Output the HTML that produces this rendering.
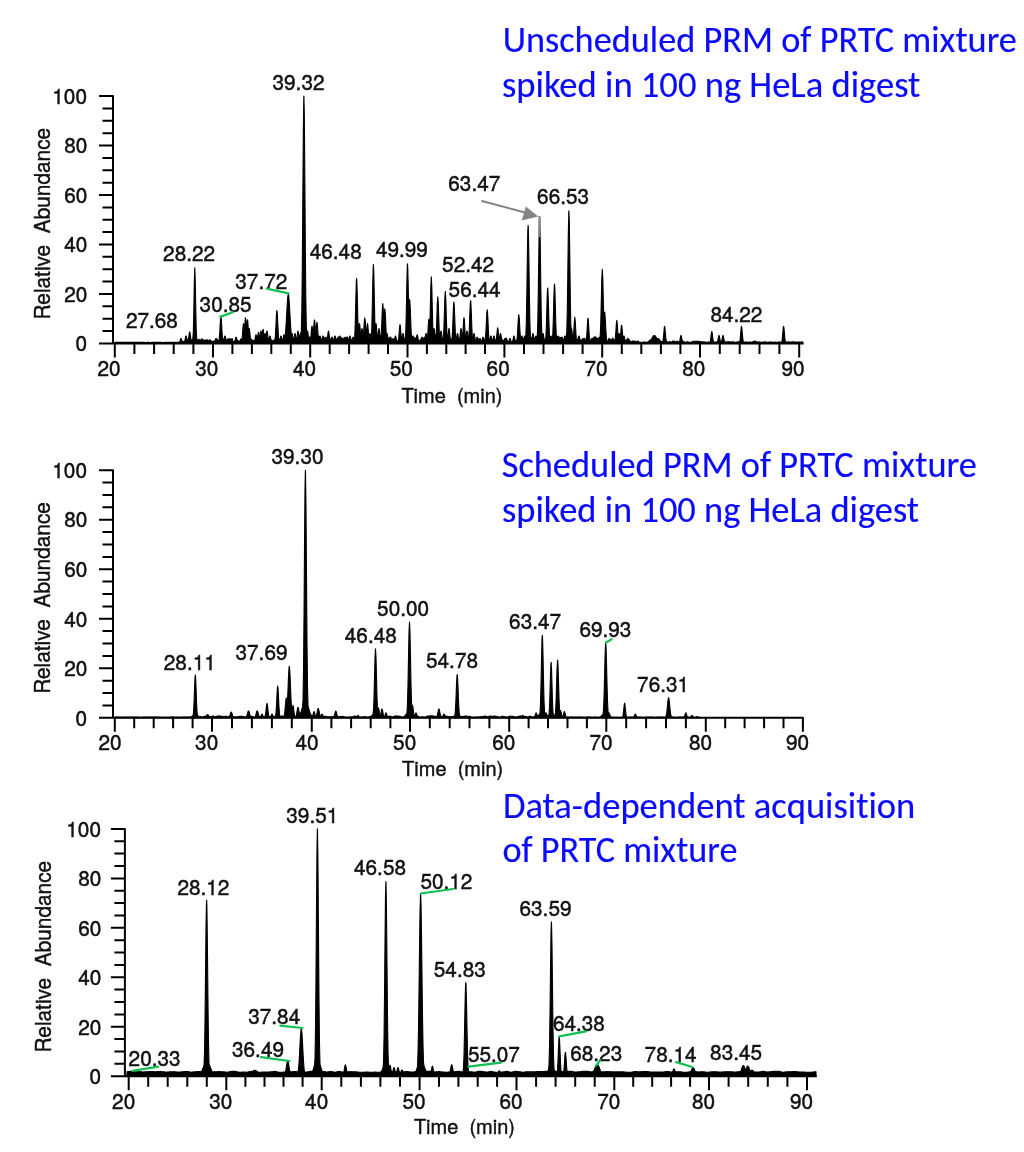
<!DOCTYPE html><html><head><meta charset="utf-8"><title>PRM chromatograms</title><style>html,body{margin:0;padding:0;background:#fff;}svg{display:block}</style></head><body>
<svg width="1024" height="1152" viewBox="0 0 1024 1152">
<rect width="1024" height="1152" fill="#fff"/>
<polygon points="114.8,343.4 114.80,342.3 115.30,342.3 115.80,342.2 116.30,342.2 116.80,342.2 117.30,342.2 117.80,342.2 118.30,342.3 118.80,342.4 119.30,342.5 119.80,342.4 120.30,342.4 120.80,342.4 121.30,342.4 121.80,342.3 122.30,342.2 122.80,342.3 123.30,342.4 123.80,342.5 124.30,342.4 124.80,342.3 125.30,342.2 125.80,342.2 126.30,342.2 126.80,342.2 127.30,342.3 127.80,342.3 128.30,342.4 128.80,342.4 129.30,342.4 129.80,342.4 130.30,342.4 130.80,342.4 131.30,342.4 131.80,342.4 132.30,342.4 132.80,342.4 133.30,342.4 133.80,342.4 134.30,342.4 134.80,342.4 135.30,342.4 135.80,342.3 136.30,342.3 136.80,342.3 137.30,342.3 137.80,342.3 138.30,342.2 138.80,342.2 139.30,342.2 139.80,342.2 140.30,342.2 140.80,342.3 141.30,342.3 141.80,342.3 142.30,342.3 142.80,342.2 143.30,342.2 143.80,342.3 144.30,342.4 144.80,342.5 145.30,342.5 145.80,342.5 146.30,342.5 146.80,342.4 147.30,342.4 147.80,342.3 148.30,342.4 148.80,342.4 149.30,342.5 149.80,342.5 150.30,342.5 150.80,342.5 151.30,342.5 151.80,342.4 152.30,342.3 152.80,342.3 153.30,342.4 153.80,342.4 154.30,342.3 154.80,342.2 155.30,342.2 155.80,342.2 156.30,342.3 156.80,342.3 157.30,342.3 157.80,342.3 158.30,342.3 158.80,342.3 159.30,342.3 159.80,342.4 160.30,342.4 160.80,342.4 161.30,342.4 161.80,342.5 162.30,342.5 162.80,342.5 163.30,342.5 163.80,342.5 164.30,342.5 164.80,342.4 165.30,342.3 165.80,342.3 166.30,342.3 166.80,342.4 167.30,342.5 167.80,342.4 168.30,342.4 168.80,342.4 169.30,342.4 169.80,342.5 170.30,342.5 170.80,342.4 171.30,342.3 171.80,342.2 172.30,342.3 172.80,342.4 173.30,342.5 173.80,342.5 174.30,342.4 174.80,342.4 175.30,342.4 175.80,342.3 176.30,342.2 176.80,342.3 177.30,342.3 177.80,342.3 178.30,342.3 178.80,342.3 179.30,342.2 179.80,341.8 180.30,340.0 180.80,338.6 181.00,338.5 181.30,338.8 181.80,340.4 182.30,342.1 182.80,342.3 183.30,341.3 183.80,342.2 184.30,341.6 184.80,341.0 185.30,338.3 185.80,336.2 186.00,336.0 186.30,336.5 186.80,338.9 187.30,340.0 187.80,339.6 188.30,339.1 188.80,337.2 189.30,333.1 189.70,331.8 189.80,331.9 190.30,334.6 190.80,338.9 191.30,340.2 191.80,340.2 192.30,339.7 192.80,339.2 193.30,332.6 193.80,311.6 194.30,282.5 194.80,267.7 195.30,282.5 195.80,311.6 196.30,332.6 196.80,339.2 197.30,339.7 197.80,340.2 198.30,340.2 198.80,339.3 199.30,339.9 199.80,339.8 200.00,339.7 200.30,339.9 200.80,340.2 201.30,339.5 201.80,338.7 202.30,339.2 202.80,339.7 203.30,340.2 203.80,340.2 204.30,340.2 204.80,340.1 205.00,340.1 205.30,340.1 205.80,340.1 206.30,340.0 206.80,340.0 207.30,339.9 207.80,339.9 208.30,340.6 208.80,341.2 209.30,340.9 209.80,339.8 210.00,339.7 210.30,339.9 210.80,340.8 211.30,341.1 211.80,341.3 212.30,341.6 212.80,341.4 213.30,341.2 213.80,340.9 214.30,341.3 214.80,341.7 215.30,340.0 215.80,338.6 216.00,338.5 216.30,338.8 216.80,338.7 217.30,339.7 217.80,340.7 218.30,341.7 218.80,341.1 219.30,338.3 219.80,331.3 220.30,322.4 220.80,317.1 220.90,316.9 221.30,319.5 221.80,327.7 222.30,335.9 222.80,339.1 223.30,339.4 223.80,339.6 224.30,338.3 224.80,336.2 225.00,336.0 225.30,336.5 225.80,338.9 226.30,341.1 226.80,340.1 227.30,339.2 227.80,339.1 228.30,338.9 228.80,338.8 229.30,338.8 229.80,338.9 230.30,339.0 230.80,339.4 231.30,339.8 231.80,338.6 232.00,338.5 232.30,338.8 232.80,340.4 233.30,342.0 233.80,341.9 234.30,341.8 234.80,341.4 235.30,339.2 235.80,337.4 236.00,337.2 236.30,337.6 236.80,339.4 237.30,339.9 237.80,340.3 238.30,340.8 238.80,341.3 239.30,341.8 239.80,340.9 240.30,340.0 240.80,339.0 241.30,339.4 241.80,339.7 242.30,337.0 242.80,329.9 243.30,324.2 243.50,323.6 243.80,325.0 244.30,331.4 244.80,325.9 245.30,318.5 245.50,317.7 245.80,319.4 246.30,327.8 246.80,327.4 247.30,320.6 247.50,319.9 247.80,321.5 248.30,329.2 248.80,330.3 249.20,328.6 249.30,328.7 249.80,332.2 250.30,337.6 250.80,340.2 251.30,339.1 251.80,339.6 252.30,340.1 252.80,340.7 253.30,340.6 253.80,340.5 254.30,340.4 254.80,340.6 255.30,337.5 255.80,335.0 256.00,334.7 256.30,335.3 256.80,338.2 257.30,339.6 257.80,335.8 258.30,332.6 258.50,332.3 258.80,333.0 259.30,336.7 259.80,339.4 260.30,335.0 260.80,331.4 261.00,331.0 261.30,331.9 261.80,335.9 262.30,333.8 262.80,329.7 263.00,329.3 263.30,330.3 263.80,334.9 264.30,336.7 264.80,333.8 265.00,333.5 265.30,334.2 265.80,337.4 266.30,335.0 266.80,331.4 267.00,331.0 267.30,331.9 267.80,335.9 268.30,340.1 268.80,340.6 269.30,338.3 269.80,336.2 270.00,336.0 270.30,336.5 270.80,338.9 271.30,339.8 271.80,340.5 272.30,341.2 272.80,340.8 273.30,340.5 273.80,340.2 274.30,340.1 274.80,340.0 275.30,337.1 275.80,328.3 276.30,317.3 276.80,310.7 276.90,310.5 277.30,313.7 277.80,323.9 278.30,334.1 278.80,340.2 279.30,339.8 279.80,339.5 280.30,338.3 280.80,336.2 281.00,336.0 281.30,336.5 281.80,338.9 282.30,340.9 282.80,340.6 283.30,337.5 283.80,335.0 284.00,334.7 284.30,335.3 284.80,338.2 285.30,335.1 285.80,329.1 286.30,321.0 286.80,311.8 287.30,303.0 287.80,296.6 288.30,294.2 288.80,296.6 289.30,303.0 289.80,311.8 290.30,321.0 290.80,329.1 291.30,335.1 291.80,333.8 292.00,333.5 292.30,334.2 292.80,337.4 293.30,339.3 293.80,340.2 294.30,336.7 294.80,333.8 295.00,333.5 295.30,334.2 295.80,337.4 296.30,340.0 296.80,339.4 297.30,335.0 297.80,331.4 298.00,331.0 298.30,331.9 298.80,335.9 299.30,338.1 299.80,336.6 300.30,333.8 300.50,333.5 300.80,333.3 301.30,331.5 301.80,311.2 302.30,267.7 302.80,202.0 303.30,134.0 303.80,97.2 303.90,96.1 304.30,113.7 304.80,173.3 305.30,243.5 305.80,296.8 306.30,326.1 306.80,332.6 307.30,331.4 307.50,331.0 307.80,331.9 308.30,335.9 308.80,338.8 309.30,338.1 309.80,336.9 310.30,337.6 310.80,337.8 311.30,331.6 311.80,326.6 312.00,326.1 312.30,327.3 312.80,332.9 313.30,334.1 313.80,326.3 314.30,320.5 314.50,319.9 314.80,321.2 315.30,327.9 315.80,335.5 316.30,329.1 316.80,323.0 317.00,322.4 317.30,323.8 317.80,330.7 318.30,337.8 318.80,336.7 319.30,337.6 319.80,336.2 320.00,336.0 320.30,336.5 320.80,338.9 321.30,339.5 321.80,339.4 322.30,338.3 322.80,336.2 323.00,336.0 323.30,336.5 323.80,337.5 324.30,337.8 324.80,338.1 325.30,338.4 325.80,337.4 326.00,337.2 326.30,337.6 326.80,339.4 327.30,339.4 327.80,335.0 328.30,331.4 328.50,331.0 328.80,331.9 329.30,335.9 329.80,338.2 330.30,339.2 330.80,340.1 331.30,339.1 331.80,337.4 332.00,337.2 332.30,337.1 332.80,338.7 333.30,340.4 333.80,341.0 334.30,338.3 334.80,336.2 335.00,336.0 335.30,336.5 335.80,338.9 336.30,339.6 336.80,339.5 337.30,338.6 337.80,337.7 338.30,336.9 338.80,338.3 339.30,338.3 339.80,336.2 340.00,336.0 340.30,336.5 340.80,338.8 341.30,337.8 341.80,338.0 342.30,338.3 342.80,338.5 343.30,338.4 343.80,338.4 344.30,338.3 344.80,337.4 345.00,337.2 345.30,337.6 345.80,338.8 346.30,338.1 346.80,337.4 347.30,336.8 347.80,338.0 348.30,339.3 348.80,340.6 349.30,338.3 349.80,336.2 350.00,336.0 350.30,336.5 350.80,338.9 351.30,340.9 351.80,341.3 352.30,339.2 352.80,337.4 353.00,337.2 353.30,337.6 353.80,339.7 354.30,340.0 354.80,335.4 355.30,321.6 355.80,300.5 356.30,282.3 356.60,278.6 356.80,280.3 357.30,296.2 357.80,317.8 358.30,333.4 358.80,329.9 359.30,324.2 359.50,323.6 359.80,325.0 360.30,331.4 360.80,338.1 361.30,333.3 361.80,329.0 362.00,328.6 362.30,329.6 362.80,334.4 363.30,337.4 363.80,329.9 364.30,321.5 364.80,317.7 365.30,321.5 365.80,329.9 366.30,337.0 366.80,329.9 367.30,324.2 367.50,323.6 367.80,325.0 368.30,331.4 368.80,337.8 369.30,336.7 369.80,333.8 370.00,333.5 370.30,334.2 370.80,337.4 371.30,338.8 371.80,328.3 372.30,307.3 372.80,280.9 373.30,265.0 373.40,264.5 373.80,272.3 374.30,296.6 374.80,321.1 375.30,329.9 375.80,324.2 376.00,323.6 376.30,325.0 376.80,331.4 377.30,338.1 377.80,338.6 378.30,333.3 378.80,329.0 379.00,328.6 379.30,329.6 379.80,334.4 380.30,337.7 380.80,337.9 381.30,334.1 381.80,322.5 382.30,309.5 382.80,303.6 383.30,309.5 383.80,322.5 384.30,313.9 384.80,308.8 385.30,313.9 385.80,325.2 386.30,335.3 386.80,333.8 387.00,333.5 387.30,334.2 387.80,337.3 388.30,338.0 388.80,338.7 389.30,339.2 389.80,337.4 390.00,337.2 390.30,337.6 390.80,337.1 391.30,338.8 391.80,340.5 392.30,340.0 392.80,338.6 393.00,338.5 393.30,338.8 393.80,340.4 394.30,341.0 394.80,338.3 395.30,336.2 395.50,336.0 395.80,336.5 396.30,338.9 396.80,341.0 397.30,341.0 397.80,341.1 398.30,341.1 398.80,337.3 399.30,330.6 399.80,325.2 400.00,324.6 400.30,325.9 400.80,332.0 401.30,338.4 401.80,340.2 402.30,336.7 402.80,333.8 403.00,333.5 403.30,334.2 403.80,337.4 404.30,339.0 404.80,339.7 405.30,339.1 405.80,331.1 406.30,312.0 406.80,285.4 407.30,265.8 407.50,263.8 407.80,268.3 408.30,290.7 408.80,312.5 409.30,301.7 409.60,299.6 409.80,300.6 410.30,309.8 410.80,323.4 411.30,334.3 411.80,337.0 412.30,337.8 412.80,336.2 413.00,336.0 413.30,336.5 413.80,338.8 414.30,338.3 414.80,337.7 415.30,338.0 415.80,338.3 416.30,338.6 416.80,335.8 417.20,334.7 417.30,334.8 417.80,336.9 418.30,339.7 418.80,340.6 419.30,341.4 419.80,340.6 420.30,339.9 420.80,339.1 421.30,339.2 421.80,337.4 422.00,337.2 422.30,337.6 422.80,339.7 423.30,339.3 423.80,337.8 424.30,337.5 424.80,337.1 425.30,336.7 425.80,333.8 426.00,333.5 426.30,334.2 426.80,337.4 427.30,339.1 427.80,334.0 428.30,325.1 428.80,319.4 428.90,319.2 429.30,322.0 429.80,327.8 430.30,308.5 430.80,286.8 431.30,276.9 431.80,286.8 432.30,308.5 432.80,327.8 433.30,333.3 433.80,329.0 434.00,328.6 434.30,329.6 434.80,334.4 435.30,338.1 435.80,337.8 436.30,332.5 436.80,318.9 437.30,303.6 437.80,296.7 438.30,303.6 438.80,318.9 439.30,332.5 439.80,337.7 440.30,335.0 440.80,331.4 441.00,331.0 441.30,331.9 441.80,335.9 442.30,340.1 442.80,339.2 443.30,338.0 443.80,331.2 444.30,316.0 444.80,299.0 445.30,291.2 445.80,299.0 446.30,316.0 446.80,331.2 447.30,339.5 447.80,338.6 448.30,333.3 448.80,329.0 449.00,328.6 449.30,329.6 449.80,334.4 450.30,338.9 450.80,338.9 451.30,339.9 451.80,340.9 452.30,335.5 452.80,324.5 453.30,310.7 453.80,302.4 453.90,302.1 454.30,306.2 454.80,318.9 455.30,331.7 455.80,338.4 456.30,338.0 456.80,336.7 457.30,333.8 457.50,333.5 457.80,334.2 458.30,337.4 458.80,338.7 459.30,339.7 459.80,338.6 460.30,333.3 460.80,329.0 461.00,328.6 461.30,329.6 461.80,334.4 462.30,337.7 462.80,335.1 463.30,325.9 463.80,318.5 464.00,317.7 464.30,319.4 464.80,327.8 465.30,336.5 465.80,339.4 466.30,335.0 466.80,331.4 467.00,331.0 467.30,331.9 467.80,335.9 468.30,339.9 468.80,338.1 469.30,329.0 469.80,315.1 470.30,303.0 470.60,300.6 470.80,301.7 471.30,312.2 471.80,326.5 472.30,336.8 472.80,337.7 473.30,336.7 473.80,333.8 474.00,333.5 474.30,334.2 474.80,337.4 475.30,340.5 475.80,340.8 476.30,339.2 476.80,337.4 477.00,337.2 477.30,337.6 477.80,339.7 478.30,339.4 478.80,339.0 479.30,338.6 479.80,338.6 480.00,338.5 480.30,338.8 480.80,340.4 481.30,341.4 481.80,340.8 482.30,339.2 482.80,337.4 483.00,337.2 483.30,337.6 483.80,339.7 484.30,340.7 484.80,339.6 485.30,338.6 485.80,333.9 486.30,323.5 486.80,313.1 487.20,309.8 487.30,310.0 487.80,316.7 488.30,328.0 488.80,337.0 489.30,340.3 489.80,340.3 490.30,338.3 490.80,336.2 491.00,336.0 491.30,336.5 491.80,338.9 492.30,340.6 492.80,341.0 493.30,338.3 493.80,336.2 494.00,336.0 494.30,336.5 494.80,338.9 495.30,340.7 495.80,340.6 496.30,340.0 496.80,335.1 497.30,329.7 497.70,327.8 497.80,327.9 498.30,331.6 498.80,337.3 499.30,340.2 499.80,336.7 500.30,333.8 500.50,333.5 500.80,334.2 501.30,337.4 501.80,339.1 502.30,339.7 502.80,340.2 503.30,340.8 503.80,341.2 504.30,340.0 504.80,338.6 505.00,338.5 505.30,338.8 505.80,339.4 506.30,338.0 506.80,339.3 507.30,340.5 507.80,341.8 508.30,341.8 508.80,341.7 509.30,340.0 509.80,338.6 510.00,338.5 510.30,338.8 510.80,340.4 511.30,341.9 511.80,342.0 512.30,342.1 512.80,340.4 513.30,338.3 513.80,336.2 514.00,336.0 514.30,336.5 514.80,338.9 515.30,340.9 515.80,340.9 516.30,340.8 516.80,340.7 517.30,336.6 517.80,328.2 518.30,318.8 518.80,314.5 519.30,318.8 519.80,328.2 520.30,336.6 520.80,340.6 521.30,338.3 521.80,336.2 522.00,336.0 522.30,336.5 522.80,338.9 523.30,339.1 523.80,338.2 524.30,337.3 524.80,336.2 525.00,336.0 525.30,336.5 525.80,336.7 526.30,323.1 526.80,296.2 527.30,260.0 527.80,231.1 528.10,225.4 528.30,228.0 528.80,253.0 529.30,289.4 529.80,318.8 530.30,334.9 530.80,337.9 531.30,338.0 531.80,337.9 532.30,336.7 532.80,333.8 533.00,333.5 533.30,334.2 533.80,337.4 534.30,338.2 534.80,338.5 535.30,338.3 535.80,336.2 536.00,336.0 536.30,336.5 536.80,337.7 537.30,336.2 537.80,321.5 538.30,292.7 538.80,253.8 539.30,222.6 539.60,216.5 539.80,219.3 540.30,246.2 540.80,285.3 541.30,317.0 541.80,334.2 542.30,336.7 542.80,333.8 543.00,333.5 543.30,334.2 543.80,337.4 544.30,340.4 544.80,339.9 545.30,339.4 545.80,338.0 546.30,327.8 546.80,310.6 547.30,293.4 547.70,288.0 547.80,288.4 548.30,299.5 548.80,318.0 549.30,332.8 549.80,340.2 550.30,338.3 550.80,336.2 551.00,336.0 551.30,336.5 551.80,338.9 552.30,339.0 552.80,334.2 553.30,320.0 553.80,300.1 554.30,285.6 554.50,284.0 554.80,287.4 555.30,304.1 555.80,323.5 556.30,336.1 556.80,337.2 557.30,336.6 557.80,336.2 558.00,336.0 558.30,336.5 558.80,337.0 559.30,337.2 559.80,337.3 560.30,337.5 560.80,337.7 561.30,337.8 561.80,337.4 562.00,337.2 562.30,337.6 562.80,339.4 563.30,340.2 563.80,339.7 564.30,338.3 564.80,336.2 565.00,336.0 565.30,336.5 565.80,338.0 566.30,337.0 566.80,331.3 567.30,310.3 567.80,274.6 568.30,234.4 568.80,211.6 568.90,210.8 569.30,221.9 569.80,258.0 570.30,297.6 570.80,324.7 571.30,329.0 571.50,328.6 571.80,329.6 572.30,334.4 572.80,339.4 573.30,338.9 573.80,331.4 574.30,321.8 574.80,317.2 575.30,321.8 575.80,331.4 576.30,338.9 576.80,341.9 577.30,340.7 577.80,339.1 578.30,337.5 578.80,336.2 579.00,336.0 579.30,336.5 579.80,338.9 580.30,339.6 580.80,339.9 581.30,340.2 581.80,339.9 582.30,339.6 582.80,338.6 583.00,338.5 583.30,338.8 583.80,338.6 584.30,338.3 584.80,338.9 585.30,339.6 585.80,340.3 586.30,339.4 586.80,335.2 587.30,326.2 587.80,319.0 588.00,318.2 588.30,319.9 588.80,328.1 589.30,336.7 589.80,339.2 590.30,340.2 590.80,340.7 591.30,340.0 591.80,338.6 592.00,338.5 592.30,338.8 592.80,339.3 593.30,338.0 593.80,337.6 594.30,337.1 594.80,336.6 595.30,338.3 595.80,337.4 596.00,337.2 596.30,337.6 596.80,339.7 597.30,339.4 597.80,338.3 598.30,338.1 598.50,338.0 598.80,337.9 599.30,337.6 599.80,337.4 600.30,334.9 600.80,321.5 601.30,300.3 601.80,278.6 602.30,269.2 602.80,278.6 603.30,300.3 603.80,321.2 604.30,313.5 604.60,312.0 604.80,312.7 605.30,319.3 605.80,329.0 606.30,336.9 606.80,341.1 607.30,341.7 607.80,341.6 608.30,340.0 608.80,338.6 609.00,338.5 609.30,338.8 609.80,339.1 610.30,339.4 610.80,339.6 611.30,339.9 611.80,339.3 612.00,339.0 612.30,338.7 612.80,338.1 613.30,339.2 613.80,340.3 614.30,341.4 614.80,340.0 615.30,338.5 615.80,332.8 616.30,324.3 616.80,320.2 617.30,324.3 617.80,332.8 618.30,336.7 618.80,333.8 619.00,333.5 619.30,334.2 619.80,337.4 620.30,338.5 620.80,332.3 621.30,326.3 621.60,325.1 621.80,325.7 622.30,330.9 622.80,337.5 623.30,338.3 623.80,336.2 624.00,336.0 624.30,336.5 624.80,338.9 625.30,340.7 625.80,340.7 626.30,340.7 626.80,339.9 627.30,339.1 627.80,338.3 628.30,338.8 628.80,339.3 629.30,339.8 629.80,340.6 630.00,340.9 630.30,341.1 630.80,341.9 631.30,342.0 631.80,341.5 632.30,341.1 632.80,341.1 633.30,341.2 633.80,341.0 634.00,340.9 634.30,341.1 634.80,341.2 635.30,341.2 635.80,341.5 636.30,341.8 636.80,342.2 637.30,341.7 637.80,341.0 638.00,340.9 638.30,341.1 638.80,341.9 639.30,342.1 639.80,342.2 640.30,342.2 640.80,342.3 641.30,342.3 641.80,342.4 642.30,342.4 642.80,342.5 643.30,342.3 643.80,342.0 644.30,341.8 644.80,342.0 645.30,342.2 645.80,342.4 646.30,342.3 646.80,342.3 647.30,342.3 647.80,341.9 648.30,341.6 648.80,341.3 649.30,340.8 649.80,340.3 650.30,339.9 650.80,339.7 651.00,339.7 651.30,339.5 651.80,338.6 652.30,337.7 652.80,336.8 653.30,336.1 653.80,335.6 654.30,335.5 654.80,335.6 655.30,336.1 655.80,336.8 656.30,337.7 656.80,338.6 657.30,338.7 657.80,338.5 658.00,338.5 658.30,338.5 658.80,338.8 659.30,339.4 659.80,340.1 660.30,340.8 660.80,341.5 661.30,341.6 661.80,341.7 662.30,341.7 662.80,341.8 663.30,338.8 663.80,333.1 664.30,327.5 664.60,326.3 664.80,326.9 665.30,331.8 665.80,337.9 666.30,341.3 666.80,341.2 667.30,341.6 667.80,341.9 668.30,342.3 668.80,342.3 669.30,342.1 669.80,341.5 670.00,341.4 670.30,341.6 670.80,342.2 671.30,342.4 671.80,341.9 672.30,341.5 672.80,341.1 673.30,341.1 673.80,341.1 674.30,341.1 674.80,341.5 675.30,341.8 675.80,342.2 676.30,341.8 676.80,341.5 677.30,341.1 677.80,341.5 678.30,341.8 678.80,342.2 679.30,342.1 679.80,340.8 680.30,338.0 680.80,335.7 681.00,335.5 681.30,336.0 681.80,338.6 682.30,341.3 682.80,341.4 683.30,341.2 683.80,341.6 684.30,342.0 684.80,342.5 685.30,342.3 685.80,342.2 686.30,342.1 686.80,341.9 687.30,341.8 687.80,341.6 688.30,341.9 688.80,342.2 689.30,342.4 689.80,342.4 690.30,342.3 690.80,342.2 691.30,342.1 691.80,342.0 692.30,341.8 692.80,341.6 693.30,341.4 693.80,341.2 694.30,341.3 694.80,341.3 695.30,341.4 695.80,341.4 696.30,341.3 696.80,341.3 697.30,341.3 697.80,341.4 698.30,341.4 698.80,341.4 699.30,341.5 699.80,341.5 700.30,341.9 700.80,341.8 701.30,341.8 701.80,341.8 702.30,341.9 702.80,341.9 703.30,341.9 703.80,341.9 704.30,341.9 704.80,342.0 705.30,342.1 705.80,342.3 706.30,342.3 706.80,342.4 707.30,342.4 707.80,342.2 708.30,342.0 708.80,341.9 709.30,342.1 709.80,342.2 710.30,341.4 710.80,338.0 711.30,333.6 711.80,331.5 712.30,333.6 712.80,338.0 713.30,341.4 713.80,342.1 714.30,342.2 714.80,342.2 715.30,342.1 715.80,341.9 716.30,341.7 716.80,341.9 717.30,342.2 717.80,340.8 718.30,338.0 718.80,335.7 719.00,335.5 719.30,336.0 719.80,338.6 720.30,341.3 720.80,342.5 721.30,342.2 721.80,340.8 722.30,338.0 722.80,335.7 723.00,335.5 723.30,336.0 723.80,338.6 724.30,341.3 724.80,341.9 725.30,341.8 725.80,342.0 726.30,342.1 726.80,342.3 727.30,342.1 727.80,341.5 728.00,341.4 728.30,341.6 728.80,341.9 729.30,341.9 729.80,341.9 730.30,341.9 730.80,342.0 731.30,342.0 731.80,341.9 732.30,341.8 732.80,341.7 733.30,341.9 733.80,342.0 734.30,342.2 734.80,342.2 735.30,342.2 735.80,342.2 736.30,342.1 736.80,342.0 737.30,341.9 737.80,341.9 738.30,341.9 738.80,341.8 739.30,342.0 739.80,341.6 740.30,337.9 740.80,331.8 741.30,326.9 741.50,326.3 741.80,327.5 742.30,333.1 742.80,338.8 743.30,342.0 743.80,342.3 744.30,342.2 744.80,342.1 745.30,342.0 745.80,341.9 746.30,341.9 746.80,342.1 747.30,342.3 747.80,342.5 748.30,342.3 748.80,342.1 749.30,341.9 749.80,342.1 750.30,342.3 750.80,342.5 751.30,342.2 751.80,342.0 752.30,341.7 752.80,341.8 753.30,342.0 753.80,341.7 754.30,341.1 754.80,340.9 755.30,341.1 755.80,341.7 756.30,342.0 756.80,341.9 757.30,342.0 757.80,342.0 758.30,342.1 758.80,342.0 759.30,342.0 759.80,341.9 760.30,342.1 760.80,342.3 761.30,342.5 761.80,342.3 762.30,342.2 762.80,342.0 763.30,342.0 763.80,342.1 764.30,342.1 764.80,341.9 765.30,341.8 765.80,341.7 766.30,342.0 766.80,342.2 767.30,342.5 767.80,342.4 768.30,342.3 768.80,342.1 769.30,342.1 769.80,342.0 770.30,342.0 770.80,342.0 771.30,342.0 771.80,342.1 772.30,342.2 772.80,342.3 773.30,342.5 773.80,342.3 774.30,342.2 774.80,342.0 775.30,342.1 775.80,342.2 776.30,342.3 776.80,342.3 777.30,342.4 777.80,342.4 778.30,342.2 778.80,342.0 779.30,341.8 779.80,342.0 780.30,342.2 780.80,342.4 781.30,342.3 781.80,342.0 782.30,338.8 782.80,333.1 783.30,327.5 783.60,326.3 783.80,326.9 784.30,331.8 784.80,337.9 785.30,341.6 785.80,342.0 786.30,342.0 786.80,342.1 787.30,342.0 787.80,341.9 788.30,341.8 788.80,341.9 789.30,342.0 789.80,342.1 790.30,342.1 790.80,342.0 791.30,342.0 791.80,341.9 792.30,341.9 792.80,341.8 793.30,341.9 793.80,341.9 794.30,341.9 794.80,342.0 795.30,342.0 795.80,342.0 796.30,342.0 796.80,342.1 797.30,342.2 797.80,342.1 798.30,342.1 798.80,342.1 799.30,342.1 799.80,342.1 800.30,342.2 800.80,342.1 801.30,342.0 801.80,341.9 802.30,342.0 802.80,342.1 802.8,343.4" fill="#000" stroke="#000" stroke-width="1.1" stroke-linejoin="round"/><path d="M99.0,96.1H113.0V343.4M99.0,343.4H803.5M102.5,331.0H113.0M102.5,318.7H113.0M102.5,306.3H113.0M99.0,293.9H113.0M102.5,281.6H113.0M102.5,269.2H113.0M102.5,256.8H113.0M99.0,244.5H113.0M102.5,232.1H113.0M102.5,219.8H113.0M102.5,207.4H113.0M99.0,195.0H113.0M102.5,182.7H113.0M102.5,170.3H113.0M102.5,157.9H113.0M99.0,145.6H113.0M102.5,133.2H113.0M102.5,120.8H113.0M102.5,108.5H113.0M114.8,343.4V357.4M134.4,343.4V353.9M154.1,343.4V353.9M173.7,343.4V353.9M193.4,343.4V353.9M213.0,343.4V357.4M232.4,343.4V353.9M251.9,343.4V353.9M271.3,343.4V353.9M290.8,343.4V353.9M310.2,343.4V357.4M329.7,343.4V353.9M349.1,343.4V353.9M368.6,343.4V353.9M388.0,343.4V353.9M407.5,343.4V357.4M426.9,343.4V353.9M446.3,343.4V353.9M465.6,343.4V353.9M485.0,343.4V353.9M504.4,343.4V357.4M524.0,343.4V353.9M543.5,343.4V353.9M563.1,343.4V353.9M582.6,343.4V353.9M602.2,343.4V357.4M621.8,343.4V353.9M641.3,343.4V353.9M660.9,343.4V353.9M680.4,343.4V353.9M700.0,343.4V357.4M719.8,343.4V353.9M739.7,343.4V353.9M759.5,343.4V353.9M779.4,343.4V353.9M799.2,343.4V357.4" stroke="#000" stroke-width="2" fill="none" stroke-linecap="butt" stroke-linejoin="round"/><g font-family="'TeX Gyre Heros', 'Liberation Sans', Arial, sans-serif" font-size="22.5" fill="#111" stroke="#111" stroke-width="0.45"><text transform="translate(75.4,351.1) scale(0.925,0.965)">0</text><text transform="translate(64.3,301.7) scale(0.925,0.965)">20</text><text transform="translate(64.3,252.2) scale(0.925,0.965)">40</text><text transform="translate(64.3,202.7) scale(0.925,0.965)">60</text><text transform="translate(64.3,153.3) scale(0.925,0.965)">80</text><text transform="translate(52.3,103.8) scale(0.925,0.965)">100</text><text transform="translate(97.5,375.7) scale(0.925,0.965)">20</text><text transform="translate(195.2,375.7) scale(0.925,0.965)">30</text><text transform="translate(292.9,375.7) scale(0.925,0.965)">40</text><text transform="translate(389.7,375.7) scale(0.925,0.965)">50</text><text transform="translate(486.6,375.7) scale(0.925,0.965)">60</text><text transform="translate(584.4,375.7) scale(0.925,0.965)">70</text><text transform="translate(682.2,375.7) scale(0.925,0.965)">80</text><text transform="translate(781.4,375.7) scale(0.925,0.965)">90</text><text transform="translate(272.5,90.1) scale(0.925,0.965)">39.32</text><text transform="translate(163.1,261.3) scale(0.925,0.965)">28.22</text><text transform="translate(125.9,327.7) scale(0.925,0.965)">27.68</text><text transform="translate(199.6,311.7) scale(0.925,0.965)">30.85</text><text transform="translate(235.3,288.5) scale(0.925,0.965)">37.72</text><text transform="translate(309.7,258.9) scale(0.925,0.965)">46.48</text><text transform="translate(375.9,257.0) scale(0.925,0.965)">49.99</text><text transform="translate(442.1,272.2) scale(0.925,0.965)">52.42</text><text transform="translate(448.6,296.5) scale(0.925,0.965)">56.44</text><text transform="translate(448.3,191.1) scale(0.925,0.965)">63.47</text><text transform="translate(537.1,204.4) scale(0.925,0.965)">66.53</text><text transform="translate(710.4,321.5) scale(0.925,0.965)">84.22</text></g><text x="401.4" y="402.6" font-family="'TeX Gyre Heros', 'Liberation Sans', Arial, sans-serif" font-size="20" fill="#111" stroke="#111" stroke-width="0.4" style="white-space:pre" xml:space="preserve">Time  (min)</text><text transform="translate(42.0,223.0) rotate(-90) scale(0.97,1)" x="-99.5" y="8.0" font-family="'TeX Gyre Heros', 'Liberation Sans', Arial, sans-serif" font-size="21.5" fill="#111" stroke="#111" stroke-width="0.4" style="white-space:pre" xml:space="preserve">Relative  Abundance</text>
<polygon points="115.0,717.8 115.00,717.1 115.50,717.1 116.00,717.1 116.50,717.1 117.00,717.0 117.50,717.0 118.00,717.0 118.50,717.1 119.00,717.1 119.50,717.1 120.00,717.1 120.50,717.1 121.00,717.1 121.50,717.2 122.00,717.2 122.50,717.2 123.00,717.1 123.50,717.1 124.00,717.1 124.50,717.0 125.00,717.0 125.50,717.0 126.00,717.1 126.50,717.1 127.00,717.1 127.50,717.2 128.00,717.1 128.50,717.1 129.00,717.1 129.50,717.0 130.00,717.0 130.50,717.0 131.00,717.0 131.50,717.0 132.00,717.0 132.50,717.0 133.00,717.0 133.50,717.1 134.00,717.1 134.50,717.1 135.00,717.1 135.50,717.1 136.00,717.1 136.50,717.1 137.00,717.1 137.50,717.0 138.00,717.1 138.50,717.1 139.00,717.2 139.50,717.2 140.00,717.3 140.50,717.3 141.00,717.2 141.50,717.2 142.00,717.2 142.50,717.2 143.00,717.1 143.50,717.1 144.00,717.1 144.50,717.0 145.00,717.0 145.50,717.0 146.00,717.0 146.50,717.0 147.00,717.1 147.50,717.1 148.00,717.1 148.50,717.1 149.00,717.1 149.50,717.1 150.00,717.1 150.50,717.1 151.00,717.1 151.50,717.1 152.00,717.1 152.50,717.1 153.00,717.1 153.50,717.1 154.00,717.1 154.50,717.1 155.00,717.1 155.50,717.1 156.00,717.1 156.50,717.1 157.00,717.1 157.50,717.1 158.00,717.1 158.50,717.1 159.00,717.1 159.50,717.1 160.00,717.1 160.50,717.2 161.00,717.2 161.50,717.2 162.00,717.2 162.50,717.2 163.00,717.2 163.50,717.2 164.00,717.2 164.50,717.2 165.00,717.2 165.50,717.2 166.00,717.2 166.50,717.2 167.00,717.2 167.50,717.2 168.00,717.2 168.50,717.2 169.00,717.2 169.50,717.2 170.00,717.1 170.50,717.1 171.00,717.1 171.50,717.0 172.00,717.0 172.50,716.9 173.00,717.0 173.50,717.0 174.00,717.1 174.50,717.1 175.00,717.2 175.50,717.2 176.00,717.2 176.50,717.2 177.00,717.1 177.50,717.1 178.00,717.1 178.50,717.1 179.00,717.2 179.50,717.2 180.00,717.2 180.50,717.2 181.00,717.1 181.50,717.1 182.00,717.1 182.50,717.1 183.00,717.1 183.50,717.0 184.00,717.0 184.50,717.0 185.00,717.0 185.50,717.0 186.00,717.0 186.50,717.0 187.00,717.0 187.50,717.0 188.00,717.0 188.50,717.1 189.00,717.1 189.50,717.1 190.00,717.2 190.50,717.0 191.00,716.7 191.50,716.5 192.00,716.2 192.50,715.9 193.00,715.6 193.50,712.5 194.00,703.4 194.50,689.5 195.00,677.4 195.30,675.0 195.50,676.1 196.00,686.6 196.50,700.9 197.00,711.2 197.50,715.5 198.00,715.8 198.50,716.1 199.00,716.4 199.50,716.7 200.00,716.9 200.50,716.5 201.00,716.7 201.50,716.8 202.00,717.0 202.50,717.2 203.00,717.0 203.50,716.7 204.00,716.5 204.50,716.3 205.00,716.0 205.50,716.2 206.00,716.3 206.50,716.1 207.00,715.2 207.50,714.6 207.70,714.6 208.00,714.7 208.50,715.4 209.00,716.3 209.50,716.6 210.00,716.6 210.50,716.7 211.00,716.7 211.50,716.8 212.00,716.9 212.50,716.2 213.00,715.8 213.50,716.2 214.00,716.8 214.50,716.7 215.00,716.7 215.50,716.6 216.00,716.4 216.50,716.3 217.00,716.2 217.50,716.1 218.00,716.1 218.50,716.1 219.00,716.1 219.50,716.1 220.00,715.8 220.50,716.2 221.00,716.3 221.50,716.4 222.00,716.5 222.50,716.6 223.00,716.5 223.50,716.4 224.00,716.3 224.50,716.3 225.00,716.2 225.50,716.3 226.00,716.3 226.50,716.4 227.00,716.5 227.50,716.6 228.00,716.6 228.50,716.7 229.00,716.7 229.50,716.3 230.00,714.9 230.50,713.3 231.00,712.2 231.20,712.1 231.50,712.3 232.00,713.6 232.50,715.2 233.00,716.5 233.50,716.7 234.00,716.8 234.50,716.9 235.00,717.0 235.50,717.0 236.00,716.9 236.50,716.9 237.00,716.9 237.50,716.8 238.00,716.7 238.50,716.6 239.00,716.5 239.50,716.4 240.00,716.3 240.50,716.2 241.00,716.2 241.50,716.2 242.00,716.2 242.50,716.2 243.00,716.4 243.50,716.6 244.00,716.8 244.50,717.0 245.00,717.2 245.50,717.0 246.00,716.8 246.50,716.6 247.00,715.3 247.50,713.4 248.00,711.6 248.50,710.9 249.00,711.6 249.50,713.4 250.00,715.3 250.50,716.2 251.00,716.3 251.50,716.4 252.00,716.5 252.50,716.6 253.00,716.8 253.50,716.9 254.00,717.0 254.50,717.1 255.00,717.1 255.50,716.0 256.00,714.2 256.50,712.3 257.00,711.0 257.20,710.9 257.50,711.1 258.00,712.6 258.50,714.6 259.00,716.2 259.50,716.8 260.00,716.9 260.50,716.8 261.00,716.1 261.50,714.7 262.00,714.1 262.50,714.7 263.00,716.1 263.50,716.5 264.00,716.6 264.50,716.7 265.00,716.7 265.50,714.4 266.00,710.3 266.50,705.6 267.00,703.4 267.50,705.6 268.00,710.3 268.50,714.4 269.00,716.7 269.50,716.8 270.00,716.9 270.50,716.9 271.00,716.1 271.50,714.7 272.00,714.1 272.50,714.7 273.00,716.1 273.50,716.6 274.00,716.6 274.50,716.5 275.00,716.3 275.50,716.1 276.00,712.9 276.50,705.3 277.00,694.7 277.50,686.9 277.70,686.1 278.00,687.9 278.50,696.8 279.00,707.2 279.50,713.9 280.00,716.1 280.50,716.4 281.00,716.6 281.50,716.3 282.00,716.1 282.50,715.9 283.00,716.1 283.50,716.3 284.00,716.5 284.50,714.4 285.00,709.9 285.50,703.8 286.00,698.9 286.30,698.0 286.50,698.4 287.00,702.6 287.50,701.1 288.00,689.2 288.50,676.6 289.00,667.9 289.30,666.3 289.50,667.0 290.00,674.4 290.50,686.6 291.00,698.9 291.50,708.2 292.00,712.1 292.50,707.6 293.00,705.4 293.50,707.6 294.00,712.1 294.50,715.7 295.00,716.7 295.50,716.6 296.00,716.5 296.50,714.7 297.00,711.6 297.50,708.5 298.00,707.2 298.50,708.5 299.00,711.6 299.50,714.7 300.00,714.4 300.50,713.2 301.00,711.9 301.50,710.4 302.00,708.7 302.50,706.9 303.00,700.5 303.50,671.1 304.00,617.7 304.50,547.5 305.00,487.9 305.40,470.2 305.50,471.3 306.00,508.2 306.50,576.3 307.00,642.0 307.50,685.6 308.00,705.9 308.50,707.6 309.00,709.4 309.50,711.0 310.00,712.5 310.50,713.7 311.00,714.8 311.50,715.6 312.00,716.3 312.50,716.6 313.00,715.0 313.50,712.7 314.00,711.6 314.50,712.7 315.00,715.0 315.50,716.0 316.00,716.1 316.50,715.3 317.00,713.0 317.50,710.3 318.00,708.6 318.20,708.4 318.50,708.8 319.00,710.8 319.50,713.5 320.00,715.7 320.50,716.3 321.00,716.1 321.50,714.7 322.00,714.1 322.50,714.7 323.00,716.1 323.50,716.2 324.00,716.2 324.50,716.2 325.00,716.2 325.50,716.3 326.00,716.4 326.50,716.6 327.00,716.7 327.50,716.8 328.00,716.8 328.50,716.8 329.00,716.9 329.50,716.9 330.00,716.9 330.50,716.9 331.00,716.8 331.50,716.8 332.00,716.7 332.50,716.7 333.00,716.6 333.50,716.6 334.00,716.6 334.50,715.1 335.00,713.1 335.50,711.4 335.80,711.1 336.00,711.3 336.50,712.7 337.00,714.7 337.50,716.4 338.00,717.0 338.50,716.9 339.00,716.8 339.50,716.7 340.00,716.6 340.50,716.6 341.00,716.5 341.50,716.5 342.00,716.4 342.50,716.4 343.00,716.5 343.50,716.7 344.00,716.8 344.50,717.0 345.00,717.1 345.50,717.1 346.00,717.1 346.50,717.1 347.00,717.1 347.50,717.1 348.00,717.1 348.50,717.1 349.00,717.1 349.50,717.1 350.00,717.0 350.50,717.0 351.00,717.0 351.50,716.9 352.00,716.9 352.50,716.9 353.00,716.7 353.50,716.5 354.00,716.3 354.50,716.1 355.00,715.9 355.50,716.2 356.00,716.4 356.50,716.7 357.00,716.7 357.50,715.8 358.00,715.3 358.50,715.8 359.00,716.7 359.50,717.1 360.00,717.0 360.50,717.0 361.00,717.0 361.50,717.0 362.00,717.1 362.50,717.1 363.00,717.0 363.50,716.9 364.00,716.8 364.50,716.7 365.00,716.6 365.50,716.7 366.00,716.9 366.50,717.0 367.00,717.1 367.50,717.3 368.00,717.2 368.50,717.0 369.00,716.9 369.50,716.8 370.00,716.6 370.50,716.6 371.00,716.2 371.50,715.8 372.00,715.4 372.50,714.9 373.00,714.4 373.50,709.9 374.00,697.4 374.50,677.6 375.00,657.5 375.50,648.7 376.00,657.5 376.50,677.6 377.00,697.4 377.50,709.9 378.00,709.7 378.50,707.9 379.00,709.7 379.50,713.3 380.00,716.1 380.50,715.7 381.00,713.1 381.50,710.2 382.00,708.9 382.50,710.2 383.00,713.1 383.50,715.7 384.00,716.6 384.50,716.6 385.00,715.5 385.50,713.7 386.00,712.8 386.50,713.7 387.00,715.5 387.50,716.7 388.00,716.6 388.50,716.4 389.00,716.3 389.50,716.2 390.00,716.1 390.50,716.3 391.00,716.5 391.50,716.7 392.00,716.9 392.50,717.1 393.00,716.8 393.50,716.6 394.00,716.4 394.50,716.2 395.00,715.9 395.50,715.9 396.00,716.0 396.50,716.0 397.00,716.0 397.50,716.0 398.00,716.0 398.50,716.1 399.00,716.2 399.50,716.2 400.00,716.3 400.50,716.5 401.00,716.7 401.50,716.9 402.00,717.0 402.50,717.2 403.00,717.0 403.50,716.9 404.00,716.6 404.50,716.1 405.00,715.6 405.50,715.0 406.00,714.4 406.50,713.7 407.00,712.5 407.50,702.7 408.00,683.9 408.50,657.4 409.00,632.4 409.50,622.0 410.00,632.4 410.50,657.4 411.00,683.9 411.50,702.7 412.00,707.6 412.50,705.4 413.00,707.6 413.50,712.1 414.00,715.6 414.50,716.1 415.00,715.5 415.50,713.7 416.00,712.8 416.50,713.7 417.00,715.5 417.50,716.0 418.00,716.2 418.50,716.4 419.00,716.7 419.50,716.9 420.00,717.1 420.50,717.1 421.00,717.0 421.50,717.0 422.00,716.9 422.50,716.8 423.00,716.9 423.50,717.0 424.00,717.1 424.50,717.2 425.00,717.3 425.50,717.0 426.00,716.8 426.50,716.5 427.00,716.3 427.50,716.1 428.00,716.0 428.50,716.0 429.00,716.0 429.50,716.0 430.00,715.9 430.50,715.9 431.00,715.9 431.50,715.9 432.00,715.9 432.50,715.8 433.00,715.9 433.50,716.1 434.00,716.2 434.50,716.3 435.00,716.4 435.50,716.4 436.00,716.4 436.50,716.3 437.00,716.3 437.50,714.7 438.00,712.1 438.50,709.6 438.90,708.9 439.00,708.9 439.50,710.5 440.00,713.2 440.50,715.6 441.00,716.4 441.50,716.4 442.00,716.4 442.50,716.5 443.00,716.1 443.50,714.7 444.00,714.1 444.50,714.7 445.00,715.9 445.50,716.0 446.00,716.1 446.50,716.2 447.00,716.3 447.50,716.4 448.00,716.5 448.50,716.6 449.00,716.6 449.50,716.7 450.00,716.8 450.50,716.8 451.00,716.7 451.50,716.6 452.00,716.6 452.50,716.5 453.00,716.7 453.50,716.4 454.00,716.1 454.50,715.8 455.00,714.7 455.50,708.8 456.00,698.0 456.50,684.6 457.00,675.4 457.20,674.5 457.50,676.5 458.00,687.2 458.50,700.5 459.00,710.3 459.50,715.3 460.00,715.8 460.50,716.1 461.00,716.4 461.50,716.5 462.00,716.6 462.50,716.7 463.00,716.6 463.50,716.4 464.00,716.3 464.50,716.2 465.00,716.0 465.50,716.1 466.00,716.1 466.50,716.1 467.00,716.2 467.50,716.2 468.00,716.3 468.50,716.4 469.00,716.6 469.50,716.6 470.00,716.3 470.50,716.6 471.00,717.0 471.50,717.0 472.00,717.1 472.50,717.2 473.00,717.2 473.50,717.2 474.00,717.1 474.50,717.1 475.00,717.1 475.50,717.1 476.00,717.1 476.50,717.1 477.00,717.0 477.50,717.0 478.00,717.0 478.50,717.0 479.00,716.9 479.50,716.9 480.00,716.9 480.50,716.8 481.00,716.8 481.50,716.7 482.00,716.7 482.50,716.6 483.00,716.5 483.50,716.4 484.00,716.2 484.50,716.1 485.00,715.9 485.50,716.1 486.00,716.3 486.50,716.5 487.00,716.7 487.50,716.9 488.00,716.7 488.50,716.5 489.00,716.3 489.50,716.2 490.00,716.0 490.50,716.0 491.00,716.1 491.50,716.2 492.00,716.2 492.50,716.3 493.00,716.2 493.50,716.2 494.00,716.1 494.50,716.1 495.00,716.0 495.50,716.2 496.00,716.3 496.50,716.4 497.00,716.6 497.50,716.7 498.00,716.8 498.50,716.9 499.00,717.1 499.50,717.2 500.00,717.3 500.50,717.1 501.00,716.8 501.50,716.6 502.00,716.4 502.50,716.1 503.00,716.3 503.50,716.5 504.00,716.6 504.50,716.8 505.00,716.9 505.50,717.0 506.00,717.0 506.50,717.0 507.00,717.1 507.50,717.1 508.00,716.9 508.50,716.7 509.00,716.5 509.50,716.3 510.00,716.1 510.50,716.2 511.00,716.2 511.50,716.2 512.00,716.3 512.50,716.3 513.00,716.4 513.50,716.6 514.00,716.7 514.50,716.8 515.00,717.0 515.50,717.0 516.00,717.0 516.50,716.9 517.00,716.9 517.50,716.9 518.00,716.7 518.50,716.5 519.00,716.3 519.50,716.1 520.00,715.9 520.50,716.1 521.00,716.3 521.50,716.5 522.00,715.9 522.50,715.3 522.60,715.3 523.00,715.6 523.50,716.5 524.00,716.5 524.50,716.4 525.00,716.3 525.50,716.4 526.00,716.6 526.50,716.8 527.00,716.9 527.50,717.1 528.00,716.9 528.50,716.7 529.00,716.5 529.50,716.3 530.00,716.1 530.50,716.3 531.00,716.5 531.50,716.7 532.00,716.9 532.50,717.1 533.00,717.0 533.50,716.9 534.00,716.8 534.50,716.7 535.00,715.9 535.50,714.1 536.00,712.9 536.10,712.8 536.50,713.4 537.00,715.2 537.50,716.2 538.00,715.7 538.50,715.2 539.00,714.6 539.50,714.1 540.00,713.1 540.50,703.6 541.00,684.8 541.50,659.5 542.00,639.3 542.30,635.3 542.50,637.1 543.00,654.6 543.50,680.1 544.00,700.6 544.50,711.8 545.00,714.0 545.50,713.7 546.00,712.8 546.50,713.7 547.00,715.5 547.50,715.9 548.00,715.5 548.50,715.1 549.00,714.6 549.50,707.2 550.00,692.4 550.50,673.8 551.00,662.7 551.10,662.3 551.50,667.8 552.00,684.9 552.50,702.2 553.00,712.4 553.50,715.0 554.00,715.4 554.50,715.4 555.00,715.0 555.50,712.5 556.00,703.4 556.50,687.9 557.00,670.3 557.50,660.4 557.60,660.1 558.00,664.9 558.50,680.6 559.00,697.9 559.50,709.7 560.00,711.7 560.50,710.4 561.00,711.7 561.50,714.4 562.00,716.4 562.50,716.7 563.00,716.5 563.50,714.5 564.00,712.3 564.40,711.6 564.50,711.7 565.00,713.1 565.50,715.4 566.00,717.0 566.50,717.1 567.00,717.1 567.50,717.0 568.00,717.0 568.50,717.0 569.00,717.1 569.50,717.1 570.00,717.1 570.50,717.1 571.00,717.1 571.50,717.0 572.00,717.0 572.50,717.0 573.00,717.1 573.50,717.1 574.00,717.1 574.50,717.1 575.00,717.2 575.50,717.1 576.00,717.1 576.50,717.1 577.00,717.1 577.50,717.0 578.00,717.0 578.50,717.0 579.00,717.0 579.50,717.0 580.00,717.0 580.50,717.1 581.00,717.1 581.50,717.1 582.00,717.1 582.50,717.2 583.00,717.2 583.50,717.2 584.00,717.2 584.50,717.3 585.00,717.3 585.50,717.2 586.00,717.2 586.50,717.1 587.00,717.0 587.50,716.9 588.00,717.0 588.50,717.0 589.00,717.0 589.50,717.0 590.00,717.0 590.50,717.1 591.00,717.1 591.50,717.2 592.00,717.2 592.50,717.2 593.00,717.2 593.50,717.2 594.00,717.1 594.50,717.1 595.00,717.0 595.50,717.1 596.00,717.1 596.50,717.1 597.00,717.2 597.50,717.2 598.00,717.2 598.50,717.2 599.00,717.2 599.50,717.1 600.00,716.9 600.50,716.6 601.00,716.3 601.50,715.8 602.00,715.4 602.50,714.8 603.00,714.3 603.50,709.8 604.00,698.1 604.50,679.4 605.00,658.2 605.50,644.4 605.70,643.0 606.00,646.1 606.50,662.2 607.00,683.6 607.50,701.1 608.00,711.3 608.50,713.7 609.00,712.8 609.50,713.7 610.00,715.5 610.50,716.3 611.00,716.7 611.50,717.0 612.00,717.2 612.50,717.3 613.00,717.3 613.50,717.3 614.00,717.2 614.50,717.2 615.00,717.2 615.50,717.2 616.00,717.2 616.50,717.2 617.00,717.2 617.50,717.2 618.00,717.2 618.50,717.2 619.00,717.2 619.50,717.2 620.00,717.2 620.50,717.2 621.00,717.3 621.50,717.3 622.00,717.3 622.50,717.3 623.00,715.8 623.50,712.1 624.00,706.8 624.50,703.3 624.60,703.2 625.00,704.9 625.50,710.0 626.00,714.6 626.50,716.9 627.00,717.2 627.50,717.2 628.00,717.2 628.50,717.1 629.00,717.1 629.50,717.1 630.00,717.0 630.50,717.0 631.00,717.0 631.50,717.0 632.00,717.0 632.50,717.0 633.00,717.0 633.50,717.1 634.00,716.8 634.50,715.5 635.00,714.3 635.30,714.1 635.50,714.2 636.00,715.3 636.50,716.6 637.00,717.1 637.50,717.1 638.00,717.1 638.50,717.1 639.00,717.1 639.50,717.1 640.00,717.1 640.50,717.1 641.00,717.2 641.50,717.2 642.00,717.2 642.50,717.3 643.00,717.3 643.50,717.3 644.00,717.3 644.50,717.3 645.00,717.3 645.50,717.2 646.00,717.1 646.50,717.1 647.00,717.0 647.50,717.0 648.00,717.0 648.50,717.0 649.00,717.1 649.50,717.1 650.00,717.1 650.50,717.1 651.00,717.1 651.50,717.1 652.00,717.0 652.50,717.0 653.00,717.1 653.50,717.1 654.00,717.2 654.50,717.2 655.00,717.3 655.50,717.2 656.00,717.2 656.50,717.2 657.00,717.1 657.50,717.1 658.00,717.1 658.50,717.0 659.00,717.0 659.50,717.0 660.00,717.0 660.50,717.0 661.00,717.0 661.50,717.0 662.00,717.0 662.50,717.0 663.00,717.0 663.50,717.1 664.00,717.2 664.50,717.2 665.00,717.1 665.50,717.0 666.00,716.4 666.50,714.3 667.00,710.6 667.50,705.4 668.00,700.4 668.50,697.8 668.60,697.7 669.00,699.0 669.50,703.3 670.00,708.6 670.50,713.0 671.00,715.8 671.50,716.9 672.00,717.1 672.50,717.0 673.00,717.1 673.50,717.1 674.00,717.2 674.50,717.2 675.00,717.3 675.50,717.3 676.00,717.2 676.50,717.2 677.00,717.2 677.50,717.2 678.00,717.2 678.50,717.1 679.00,717.1 679.50,717.0 680.00,717.0 680.50,717.0 681.00,717.1 681.50,717.1 682.00,717.1 682.50,717.1 683.00,717.1 683.50,717.1 684.00,717.1 684.50,716.5 685.00,714.8 685.50,713.2 685.80,712.8 686.00,713.0 686.50,714.4 687.00,716.2 687.50,716.9 688.00,717.0 688.50,717.0 689.00,717.1 689.50,717.1 690.00,717.2 690.50,717.2 691.00,716.7 691.50,715.8 692.00,715.3 692.50,715.8 693.00,716.7 693.50,717.2 694.00,717.2 694.50,717.2 695.00,717.2 695.50,717.2 696.00,717.2 696.50,716.8 697.00,716.6 697.50,716.8 698.00,717.2 698.50,717.3 699.00,717.3 699.50,717.3 700.00,717.3 700.0,717.8" fill="#000" stroke="#000" stroke-width="1.1" stroke-linejoin="round"/><path d="M99.0,470.2H113.0V717.8M99.0,717.8H802.9V731.8M102.5,705.4H113.0M102.5,693.0H113.0M102.5,680.7H113.0M99.0,668.3H113.0M102.5,655.9H113.0M102.5,643.5H113.0M102.5,631.1H113.0M99.0,618.8H113.0M102.5,606.4H113.0M102.5,594.0H113.0M102.5,581.6H113.0M99.0,569.2H113.0M102.5,556.9H113.0M102.5,544.5H113.0M102.5,532.1H113.0M99.0,519.7H113.0M102.5,507.3H113.0M102.5,495.0H113.0M102.5,482.6H113.0M114.8,717.8V731.8M134.2,717.8V728.3M153.7,717.8V728.3M173.1,717.8V728.3M192.6,717.8V728.3M212.0,717.8V731.8M232.0,717.8V728.3M251.9,717.8V728.3M271.9,717.8V728.3M291.8,717.8V728.3M311.8,717.8V731.8M331.4,717.8V728.3M351.1,717.8V728.3M370.7,717.8V728.3M390.4,717.8V728.3M410.0,717.8V731.8M429.8,717.8V728.3M449.7,717.8V728.3M469.5,717.8V728.3M489.4,717.8V728.3M509.2,717.8V731.8M528.6,717.8V728.3M548.0,717.8V728.3M567.5,717.8V728.3M586.9,717.8V728.3M606.3,717.8V731.8M626.2,717.8V728.3M646.1,717.8V728.3M666.0,717.8V728.3M685.9,717.8V728.3M705.8,717.8V731.8M725.2,717.8V728.3M744.6,717.8V728.3M764.1,717.8V728.3M783.5,717.8V728.3" stroke="#000" stroke-width="2" fill="none" stroke-linecap="butt" stroke-linejoin="round"/><g font-family="'TeX Gyre Heros', 'Liberation Sans', Arial, sans-serif" font-size="22.5" fill="#111" stroke="#111" stroke-width="0.45"><text transform="translate(75.4,725.5) scale(0.925,0.965)">0</text><text transform="translate(64.3,676.0) scale(0.925,0.965)">20</text><text transform="translate(64.3,626.5) scale(0.925,0.965)">40</text><text transform="translate(64.3,577.0) scale(0.925,0.965)">60</text><text transform="translate(64.3,527.4) scale(0.925,0.965)">80</text><text transform="translate(52.3,477.9) scale(0.925,0.965)">100</text><text transform="translate(98.4,749.9) scale(0.925,0.965)">20</text><text transform="translate(195.1,749.9) scale(0.925,0.965)">30</text><text transform="translate(295.4,749.9) scale(0.925,0.965)">40</text><text transform="translate(393.1,749.9) scale(0.925,0.965)">50</text><text transform="translate(492.3,749.9) scale(0.925,0.965)">60</text><text transform="translate(589.4,749.9) scale(0.925,0.965)">70</text><text transform="translate(688.9,749.9) scale(0.925,0.965)">80</text><text transform="translate(786.0,749.9) scale(0.925,0.965)">90</text><text transform="translate(163.8,670.3) scale(0.925,0.965)">28.11</text><text transform="translate(235.5,660.4) scale(0.925,0.965)">37.69</text><text transform="translate(271.5,463.8) scale(0.925,0.965)">39.30</text><text transform="translate(344.8,643.1) scale(0.925,0.965)">46.48</text><text transform="translate(377.1,615.6) scale(0.925,0.965)">50.00</text><text transform="translate(426.0,668.3) scale(0.925,0.965)">54.78</text><text transform="translate(509.1,629.2) scale(0.925,0.965)">63.47</text><text transform="translate(579.4,636.7) scale(0.925,0.965)">69.93</text><text transform="translate(637.1,691.5) scale(0.925,0.965)">76.31</text></g><text x="402.1" y="775.8" font-family="'TeX Gyre Heros', 'Liberation Sans', Arial, sans-serif" font-size="20" fill="#111" stroke="#111" stroke-width="0.4" style="white-space:pre" xml:space="preserve">Time  (min)</text><text transform="translate(42.0,597.3) rotate(-90) scale(0.97,1)" x="-99.5" y="8.0" font-family="'TeX Gyre Heros', 'Liberation Sans', Arial, sans-serif" font-size="21.5" fill="#111" stroke="#111" stroke-width="0.4" style="white-space:pre" xml:space="preserve">Relative  Abundance</text>
<polygon points="127.0,1076.2 127.00,1071.7 127.50,1071.7 128.00,1071.6 128.50,1071.6 129.00,1071.5 129.50,1071.5 130.00,1071.4 130.50,1071.4 131.00,1071.3 131.50,1071.4 132.00,1071.4 132.50,1071.5 133.00,1071.5 133.50,1071.6 134.00,1071.6 134.50,1071.7 135.00,1071.7 135.50,1071.7 136.00,1071.7 136.50,1071.7 137.00,1071.7 137.50,1071.7 138.00,1071.7 138.50,1071.7 139.00,1071.6 139.50,1071.7 140.00,1071.7 140.50,1071.8 141.00,1071.8 141.50,1071.9 142.00,1071.9 142.50,1072.0 143.00,1072.0 143.50,1072.0 144.00,1071.9 144.50,1071.9 145.00,1071.9 145.50,1071.8 146.00,1071.8 146.50,1071.8 147.00,1071.7 147.50,1071.7 148.00,1071.7 148.50,1071.7 149.00,1071.6 149.50,1071.6 150.00,1071.6 150.50,1071.6 151.00,1071.5 151.50,1071.6 152.00,1071.6 152.50,1071.6 153.00,1071.6 153.50,1071.6 154.00,1071.7 154.50,1071.7 155.00,1071.7 155.50,1071.7 156.00,1071.7 156.50,1071.6 157.00,1071.6 157.50,1071.6 158.00,1071.5 158.50,1071.5 159.00,1071.5 159.50,1071.5 160.00,1071.5 160.50,1071.6 161.00,1071.6 161.50,1071.6 162.00,1071.7 162.50,1071.7 163.00,1071.8 163.50,1071.8 164.00,1071.9 164.50,1071.9 165.00,1072.0 165.50,1072.0 166.00,1072.0 166.50,1072.1 167.00,1072.1 167.50,1072.1 168.00,1072.0 168.50,1072.0 169.00,1071.9 169.50,1071.9 170.00,1071.8 170.50,1071.8 171.00,1071.7 171.50,1071.7 172.00,1071.7 172.50,1071.8 173.00,1071.8 173.50,1071.8 174.00,1071.8 174.50,1071.8 175.00,1071.8 175.50,1071.9 176.00,1071.9 176.50,1072.0 177.00,1072.0 177.50,1072.0 178.00,1072.1 178.50,1072.1 179.00,1072.2 179.50,1072.1 180.00,1072.1 180.50,1072.0 181.00,1071.9 181.50,1071.9 182.00,1071.8 182.50,1071.7 183.00,1071.7 183.50,1071.7 184.00,1071.6 184.50,1071.6 185.00,1071.6 185.50,1071.5 186.00,1071.5 186.50,1071.5 187.00,1071.5 187.50,1071.6 188.00,1071.6 188.50,1071.7 189.00,1071.8 189.50,1071.9 190.00,1072.0 190.50,1072.1 191.00,1072.2 191.50,1072.2 192.00,1072.1 192.50,1072.0 193.00,1072.0 193.50,1071.9 194.00,1071.9 194.50,1071.8 195.00,1071.8 195.50,1071.7 196.00,1071.7 196.50,1071.7 197.00,1071.7 197.50,1071.6 198.00,1071.6 198.50,1071.6 199.00,1071.6 199.50,1071.6 200.00,1071.6 200.50,1071.7 201.00,1071.7 201.50,1071.5 202.00,1070.4 202.50,1069.2 203.00,1068.0 203.50,1066.7 204.00,1065.4 204.50,1053.3 205.00,1022.3 205.50,975.6 206.00,927.1 206.50,900.9 206.60,900.1 206.80,903.3 207.00,912.7 207.50,955.1 208.00,1005.0 208.50,1043.0 209.00,1063.9 209.50,1065.2 210.00,1066.4 210.50,1067.7 211.00,1069.0 211.50,1070.2 212.00,1071.3 212.50,1071.9 213.00,1071.9 213.50,1071.8 214.00,1071.8 214.50,1071.8 215.00,1071.8 215.50,1071.7 216.00,1071.7 216.50,1071.7 217.00,1071.7 217.50,1071.7 218.00,1071.6 218.50,1071.6 219.00,1071.6 219.50,1071.6 220.00,1071.6 220.50,1071.7 221.00,1071.7 221.50,1071.7 222.00,1071.7 222.50,1071.7 223.00,1071.7 223.50,1071.8 224.00,1071.9 224.50,1071.9 225.00,1072.0 225.50,1072.1 226.00,1072.1 226.50,1072.2 227.00,1072.2 227.50,1072.1 228.00,1072.0 228.50,1072.0 229.00,1071.9 229.50,1071.8 230.00,1071.7 230.50,1071.6 231.00,1071.5 231.50,1071.4 232.00,1071.4 232.50,1071.4 233.00,1071.4 233.50,1071.4 234.00,1071.4 234.50,1071.4 235.00,1071.3 235.50,1071.5 236.00,1071.6 236.50,1071.7 237.00,1071.8 237.50,1071.9 238.00,1072.0 238.50,1072.1 239.00,1072.3 239.50,1072.2 240.00,1072.2 240.50,1072.2 241.00,1072.2 241.50,1072.2 242.00,1072.1 242.50,1072.1 243.00,1072.1 243.50,1072.1 244.00,1072.1 244.50,1072.1 245.00,1072.1 245.50,1072.1 246.00,1072.2 246.50,1072.2 247.00,1072.2 247.50,1072.1 248.00,1072.0 248.50,1071.9 249.00,1071.8 249.50,1071.7 250.00,1071.6 250.50,1071.5 251.00,1071.4 251.50,1071.4 252.00,1071.4 252.50,1071.4 253.00,1071.1 253.50,1070.7 254.00,1070.4 254.50,1070.3 254.80,1070.3 255.00,1070.3 255.50,1070.4 256.00,1070.7 256.50,1071.0 257.00,1071.5 257.50,1072.0 258.00,1072.1 258.50,1072.2 259.00,1072.3 259.50,1072.3 260.00,1072.2 260.50,1072.2 261.00,1072.2 261.50,1072.1 262.00,1072.1 262.50,1072.0 263.00,1072.0 263.50,1072.0 264.00,1072.0 264.50,1072.1 265.00,1072.1 265.50,1072.1 266.00,1072.1 266.50,1072.1 267.00,1072.2 267.50,1072.1 268.00,1072.1 268.50,1072.0 269.00,1072.0 269.50,1072.0 270.00,1071.9 270.50,1071.9 271.00,1071.8 271.50,1071.8 272.00,1071.7 272.50,1071.7 273.00,1071.6 273.50,1071.5 274.00,1071.5 274.50,1071.4 275.00,1071.3 275.50,1071.5 276.00,1071.6 276.50,1071.7 277.00,1071.8 277.50,1071.9 278.00,1072.1 278.50,1072.2 279.00,1072.3 279.50,1072.3 280.00,1072.3 280.50,1072.2 281.00,1072.2 281.50,1072.2 282.00,1072.2 282.50,1072.2 283.00,1072.2 283.50,1072.1 284.00,1072.1 284.50,1072.0 285.00,1072.0 285.50,1072.0 286.00,1069.3 286.50,1066.0 287.00,1063.0 287.50,1061.3 287.70,1061.1 288.00,1061.5 288.50,1063.5 289.00,1066.6 289.50,1069.9 290.00,1071.8 290.50,1071.8 291.00,1071.8 291.50,1071.8 292.00,1071.7 292.50,1071.7 293.00,1071.7 293.50,1071.6 294.00,1071.6 294.50,1071.6 295.00,1071.5 295.50,1071.6 296.00,1071.6 296.50,1071.7 297.00,1071.7 297.50,1071.8 298.00,1071.8 298.50,1069.0 299.00,1062.9 299.50,1054.5 300.00,1044.6 300.50,1035.5 301.00,1029.7 301.30,1028.7 301.50,1029.2 302.00,1034.0 302.50,1042.6 303.00,1052.5 303.50,1061.4 304.00,1068.0 304.50,1072.1 305.00,1072.1 305.50,1072.1 306.00,1072.0 306.50,1072.0 307.00,1072.0 307.50,1071.9 308.00,1071.8 308.50,1071.7 309.00,1071.6 309.50,1071.5 310.00,1071.4 310.50,1071.4 311.00,1071.3 311.50,1071.3 312.00,1071.3 312.50,1071.4 313.00,1070.3 313.50,1068.8 314.00,1067.1 314.50,1065.4 315.00,1058.9 315.50,1029.6 316.00,976.3 316.50,906.1 317.00,846.5 317.40,828.9 317.50,830.0 318.00,866.8 318.50,934.8 319.00,1000.5 319.50,1044.0 320.00,1064.3 320.50,1066.1 321.00,1067.8 321.50,1069.4 322.00,1070.9 322.50,1071.6 323.00,1071.5 323.50,1071.5 324.00,1071.6 324.50,1071.7 325.00,1071.7 325.50,1071.8 326.00,1071.9 326.50,1072.0 327.00,1072.0 327.50,1072.0 328.00,1071.9 328.50,1071.8 329.00,1071.8 329.50,1071.7 330.00,1071.6 330.50,1071.6 331.00,1071.5 331.50,1071.6 332.00,1071.7 332.50,1071.8 333.00,1071.9 333.50,1072.0 334.00,1072.1 334.50,1072.2 335.00,1072.4 335.50,1072.2 336.00,1072.1 336.50,1072.0 337.00,1071.9 337.50,1071.8 338.00,1071.6 338.50,1071.5 339.00,1071.4 339.50,1071.5 340.00,1071.6 340.50,1071.7 341.00,1071.8 341.50,1071.9 342.00,1072.0 342.50,1072.1 343.00,1072.2 343.50,1072.1 344.00,1071.6 344.50,1068.4 345.00,1065.6 345.40,1064.8 345.50,1064.9 346.00,1066.6 346.50,1069.7 347.00,1071.9 347.50,1071.8 348.00,1071.8 348.50,1071.8 349.00,1071.7 349.50,1071.7 350.00,1071.7 350.50,1071.7 351.00,1071.6 351.50,1071.7 352.00,1071.7 352.50,1071.7 353.00,1071.7 353.50,1071.7 354.00,1071.8 354.50,1071.8 355.00,1071.8 355.50,1071.8 356.00,1071.9 356.50,1071.9 357.00,1072.0 357.50,1072.0 358.00,1072.1 358.50,1072.1 359.00,1072.2 359.50,1072.2 360.00,1072.2 360.50,1072.2 361.00,1072.2 361.50,1072.2 362.00,1072.2 362.50,1072.2 363.00,1072.2 363.50,1072.2 364.00,1072.2 364.50,1072.2 365.00,1072.1 365.50,1072.1 366.00,1072.1 366.50,1072.1 367.00,1072.1 367.50,1072.1 368.00,1072.1 368.50,1072.1 369.00,1072.2 369.50,1072.2 370.00,1072.2 370.50,1072.3 371.00,1072.3 371.50,1072.3 372.00,1072.3 372.50,1072.2 373.00,1072.2 373.50,1072.2 374.00,1072.2 374.50,1072.1 375.00,1072.1 375.50,1072.1 376.00,1072.1 376.50,1072.2 377.00,1072.2 377.50,1072.2 378.00,1072.2 378.50,1072.2 379.00,1072.2 379.50,1072.2 380.00,1072.1 380.50,1072.1 381.00,1072.0 381.50,1071.6 382.00,1070.3 382.50,1069.0 383.00,1067.7 383.50,1062.6 384.00,1039.5 384.50,997.5 385.00,942.4 385.50,895.5 385.90,881.6 386.00,882.5 386.50,911.4 387.00,965.0 387.50,1016.6 388.00,1050.9 388.50,1066.3 389.00,1067.5 389.50,1066.5 390.00,1065.1 390.50,1066.5 391.00,1069.7 391.50,1071.8 392.00,1071.8 392.50,1071.8 393.00,1070.7 393.50,1068.5 394.00,1067.5 394.50,1068.5 395.00,1070.7 395.50,1072.1 396.00,1072.1 396.50,1072.2 397.00,1070.7 397.50,1068.5 398.00,1067.5 398.50,1068.5 399.00,1070.7 399.50,1072.3 400.00,1072.2 400.50,1072.2 401.00,1071.8 401.50,1070.5 402.00,1070.0 402.50,1070.5 403.00,1071.8 403.50,1071.9 404.00,1071.9 404.50,1071.8 405.00,1071.8 405.50,1071.7 406.00,1071.6 406.50,1071.6 407.00,1071.5 407.50,1071.6 408.00,1071.7 408.50,1071.7 409.00,1071.8 409.50,1071.9 410.00,1071.9 410.50,1072.0 411.00,1072.1 411.50,1072.1 412.00,1072.0 412.50,1072.0 413.00,1072.0 413.50,1072.0 414.00,1072.0 414.50,1071.9 415.00,1071.9 415.50,1071.9 416.00,1070.9 416.50,1069.7 417.00,1068.5 417.50,1066.5 418.00,1053.0 418.50,1028.8 419.00,992.8 419.50,950.2 420.00,912.9 420.50,894.5 420.60,893.9 421.00,902.6 421.50,933.9 422.00,976.0 422.50,1015.6 423.00,1044.8 423.50,1062.2 424.00,1065.9 424.50,1067.2 425.00,1068.5 425.50,1069.7 426.00,1070.9 426.50,1071.4 427.00,1071.4 427.50,1071.4 428.00,1071.4 428.50,1071.4 429.00,1071.4 429.50,1071.4 430.00,1071.4 430.50,1071.3 431.00,1071.3 431.50,1069.7 432.00,1066.9 432.40,1066.1 432.50,1066.1 433.00,1067.9 433.50,1070.9 434.00,1071.9 434.50,1071.9 435.00,1072.0 435.50,1072.0 436.00,1071.9 436.50,1071.8 437.00,1071.8 437.50,1071.7 438.00,1071.7 438.50,1071.6 439.00,1071.5 439.50,1071.6 440.00,1071.7 440.50,1071.7 441.00,1071.8 441.50,1071.9 442.00,1072.0 442.50,1072.0 443.00,1072.1 443.50,1072.1 444.00,1072.1 444.50,1072.1 445.00,1072.1 445.50,1072.2 446.00,1072.2 446.50,1072.2 447.00,1072.2 447.50,1072.2 448.00,1072.1 448.50,1072.1 449.00,1072.0 449.50,1072.0 450.00,1072.0 450.50,1069.3 451.00,1066.6 451.50,1065.0 451.70,1064.8 452.00,1065.2 452.50,1067.1 453.00,1069.9 453.50,1071.8 454.00,1071.7 454.50,1071.7 455.00,1071.7 455.50,1071.7 456.00,1071.6 456.50,1071.6 457.00,1071.5 457.50,1071.5 458.00,1071.4 458.50,1071.4 459.00,1071.3 459.50,1071.4 460.00,1071.5 460.50,1071.7 461.00,1071.8 461.50,1071.9 462.00,1072.0 462.50,1072.1 463.00,1071.7 463.50,1068.1 464.00,1055.2 464.50,1033.3 465.00,1006.5 465.50,986.3 465.80,982.5 466.00,984.2 466.50,1001.5 467.00,1028.0 467.50,1051.6 468.00,1066.2 468.50,1071.0 469.00,1071.7 469.50,1071.7 470.00,1071.8 470.50,1071.8 471.00,1071.8 471.50,1071.9 472.00,1071.9 472.50,1072.0 473.00,1072.0 473.50,1072.1 474.00,1072.1 474.50,1072.2 475.00,1072.2 475.50,1072.1 476.00,1072.0 476.50,1071.9 477.00,1071.8 477.50,1071.6 478.00,1071.5 478.50,1071.4 479.00,1071.3 479.50,1071.3 480.00,1071.4 480.50,1071.4 481.00,1071.4 481.50,1071.5 482.00,1071.5 482.50,1071.6 483.00,1071.6 483.50,1071.7 484.00,1071.8 484.50,1071.8 485.00,1071.9 485.50,1072.0 486.00,1072.1 486.50,1072.1 487.00,1072.2 487.50,1072.1 488.00,1072.0 488.50,1071.9 489.00,1071.8 489.50,1071.7 490.00,1071.6 490.50,1071.5 491.00,1071.4 491.50,1071.5 492.00,1071.6 492.50,1071.7 493.00,1071.8 493.50,1071.9 494.00,1072.0 494.50,1072.1 495.00,1072.3 495.50,1072.3 496.00,1072.3 496.50,1072.3 497.00,1072.3 497.50,1072.3 498.00,1072.3 498.50,1071.6 499.00,1070.8 499.20,1070.8 499.50,1070.9 500.00,1071.8 500.50,1072.2 501.00,1072.1 501.50,1072.1 502.00,1072.1 502.50,1072.0 503.00,1072.0 503.50,1071.9 504.00,1071.8 504.50,1071.7 505.00,1071.7 505.50,1071.6 506.00,1071.5 506.50,1071.4 507.00,1071.3 507.50,1071.4 508.00,1071.6 508.50,1071.7 509.00,1071.8 509.50,1072.0 510.00,1072.1 510.50,1072.2 511.00,1072.3 511.50,1072.2 512.00,1072.1 512.50,1072.0 513.00,1071.8 513.50,1071.7 514.00,1071.6 514.50,1071.5 515.00,1071.3 515.50,1071.4 516.00,1071.4 516.50,1071.5 517.00,1071.5 517.50,1071.6 518.00,1071.6 518.50,1071.6 519.00,1071.7 519.50,1071.8 520.00,1071.8 520.50,1071.9 521.00,1072.0 521.50,1072.1 522.00,1072.1 522.50,1072.2 523.00,1072.3 523.50,1072.2 524.00,1072.2 524.50,1072.1 525.00,1072.0 525.50,1071.9 526.00,1071.9 526.50,1071.8 527.00,1071.7 527.50,1071.7 528.00,1071.8 528.50,1071.8 529.00,1071.8 529.50,1071.8 530.00,1071.8 530.50,1071.8 531.00,1071.9 531.50,1071.8 532.00,1071.8 532.50,1071.8 533.00,1071.8 533.50,1071.8 534.00,1071.8 534.50,1071.8 535.00,1071.7 535.50,1071.7 536.00,1071.7 536.50,1071.7 537.00,1071.6 537.50,1071.6 538.00,1071.6 538.50,1071.6 539.00,1071.5 539.50,1071.6 540.00,1071.6 540.50,1071.6 541.00,1071.6 541.50,1071.6 542.00,1071.6 542.50,1071.6 543.00,1071.6 543.50,1071.6 544.00,1071.5 544.50,1071.5 545.00,1071.4 545.50,1071.4 546.00,1071.3 546.50,1071.3 547.00,1071.3 547.50,1071.4 548.00,1070.5 548.50,1069.4 549.00,1065.4 549.50,1047.1 550.00,1013.8 550.50,970.1 551.00,932.9 551.40,921.9 551.50,922.6 552.00,945.5 552.50,988.0 553.00,1028.9 553.50,1056.1 554.00,1068.8 554.50,1069.9 555.00,1070.9 555.50,1071.5 556.00,1071.6 556.50,1071.6 557.00,1071.7 557.50,1070.1 558.00,1060.7 558.50,1047.5 559.00,1037.9 559.20,1036.9 559.50,1039.1 560.00,1050.2 560.50,1063.0 561.00,1071.3 561.50,1071.7 562.00,1071.6 562.50,1071.5 563.00,1071.5 563.50,1071.5 564.00,1069.4 564.50,1062.0 565.00,1054.6 565.40,1052.2 565.50,1052.4 566.00,1057.2 566.50,1065.2 567.00,1071.4 567.50,1071.4 568.00,1071.3 568.50,1071.3 569.00,1071.3 569.50,1071.3 570.00,1071.3 570.50,1071.3 571.00,1071.3 571.50,1071.4 572.00,1071.5 572.50,1071.6 573.00,1071.7 573.50,1071.8 574.00,1071.9 574.50,1072.0 575.00,1072.1 575.50,1072.0 576.00,1072.0 576.50,1072.0 577.00,1072.0 577.50,1071.9 578.00,1071.9 578.50,1071.9 579.00,1071.9 579.50,1071.8 580.00,1071.7 580.50,1071.7 581.00,1071.6 581.50,1071.5 582.00,1071.5 582.50,1071.4 583.00,1071.3 583.50,1071.3 584.00,1071.3 584.50,1071.3 585.00,1071.3 585.50,1071.3 586.00,1071.3 586.50,1071.3 587.00,1071.3 587.50,1071.4 588.00,1071.5 588.50,1071.6 589.00,1071.6 589.50,1071.7 590.00,1071.8 590.50,1071.9 591.00,1072.0 591.50,1071.9 592.00,1071.8 592.50,1071.7 593.00,1071.6 593.50,1071.6 594.00,1070.6 594.50,1069.3 595.00,1067.9 595.50,1066.6 596.00,1065.5 596.50,1064.8 597.00,1064.4 597.20,1064.3 597.50,1064.4 598.00,1064.9 598.50,1065.7 599.00,1066.9 599.50,1068.2 600.00,1069.6 600.50,1070.9 601.00,1071.9 601.50,1071.9 602.00,1071.9 602.50,1071.9 603.00,1071.9 603.50,1071.9 604.00,1071.8 604.50,1071.8 605.00,1071.7 605.50,1071.7 606.00,1071.6 606.50,1071.6 607.00,1071.5 607.50,1071.6 608.00,1071.6 608.50,1071.6 609.00,1071.7 609.50,1071.7 610.00,1071.8 610.50,1071.8 611.00,1071.8 611.50,1071.8 612.00,1071.8 612.50,1071.9 613.00,1071.9 613.50,1071.9 614.00,1071.9 614.50,1071.9 615.00,1071.9 615.50,1071.9 616.00,1071.9 616.50,1071.9 617.00,1071.9 617.50,1071.9 617.70,1071.9 618.00,1071.9 618.50,1071.9 619.00,1071.9 619.50,1071.9 620.00,1071.9 620.50,1071.9 621.00,1071.9 621.50,1071.9 622.00,1071.9 622.50,1071.9 623.00,1071.9 623.50,1071.9 624.00,1072.0 624.50,1072.0 625.00,1072.0 625.50,1072.1 626.00,1072.1 626.50,1072.2 627.00,1072.2 627.50,1072.2 628.00,1072.2 628.50,1072.2 629.00,1072.3 629.50,1072.3 630.00,1072.3 630.50,1072.3 631.00,1072.3 631.50,1072.2 632.00,1072.1 632.50,1072.0 633.00,1071.9 633.50,1071.8 634.00,1071.7 634.50,1071.6 635.00,1071.5 635.50,1071.6 636.00,1071.6 636.50,1071.6 637.00,1071.6 637.50,1071.7 638.00,1071.7 638.50,1071.7 639.00,1071.7 639.50,1071.7 640.00,1071.7 640.50,1071.7 641.00,1071.7 641.50,1071.7 642.00,1071.6 642.50,1071.6 643.00,1071.6 643.50,1071.6 644.00,1071.6 644.50,1071.6 645.00,1071.5 645.50,1071.5 646.00,1071.5 646.50,1071.5 647.00,1071.5 647.50,1071.6 648.00,1071.6 648.50,1071.7 649.00,1071.8 649.50,1071.9 650.00,1072.0 650.50,1072.0 651.00,1072.1 651.50,1072.1 652.00,1072.1 652.50,1072.1 653.00,1072.1 653.50,1072.1 654.00,1072.1 654.50,1072.1 655.00,1072.1 655.50,1072.1 656.00,1072.1 656.50,1072.1 657.00,1072.1 657.50,1072.1 658.00,1072.1 658.50,1072.1 659.00,1072.1 659.50,1072.1 660.00,1072.1 660.50,1072.0 661.00,1072.0 661.50,1072.0 662.00,1072.0 662.50,1072.0 663.00,1072.0 663.50,1072.0 664.00,1071.9 664.50,1071.8 665.00,1071.8 665.50,1071.7 666.00,1071.6 666.50,1071.6 667.00,1071.5 667.50,1071.6 668.00,1071.6 668.50,1071.7 669.00,1071.7 669.50,1071.8 670.00,1071.8 670.50,1071.9 671.00,1072.0 671.50,1072.0 672.00,1072.0 672.50,1072.0 673.00,1071.0 673.50,1069.4 674.00,1068.8 674.50,1069.4 675.00,1071.0 675.50,1072.0 676.00,1071.9 676.50,1071.9 677.00,1071.8 677.50,1071.8 678.00,1071.7 678.50,1071.7 679.00,1071.7 679.50,1071.7 680.00,1071.8 680.50,1071.8 681.00,1071.9 681.50,1072.0 682.00,1072.0 682.50,1072.1 683.00,1072.2 683.50,1072.2 684.00,1072.2 684.50,1072.2 685.00,1072.2 685.50,1072.2 686.00,1072.2 686.50,1072.2 687.00,1072.2 687.50,1072.2 688.00,1072.1 688.50,1072.0 689.00,1071.9 689.50,1071.8 690.00,1071.8 690.50,1071.7 691.00,1071.4 691.50,1070.1 692.00,1069.0 692.50,1068.2 693.00,1067.8 693.10,1067.8 693.50,1068.0 694.00,1068.6 694.50,1069.6 695.00,1070.8 695.50,1071.6 696.00,1071.7 696.50,1071.7 697.00,1071.8 697.50,1071.8 698.00,1071.9 698.50,1072.0 699.00,1072.0 699.50,1072.0 700.00,1071.9 700.50,1071.9 701.00,1071.8 701.50,1071.8 702.00,1071.8 702.50,1071.7 703.00,1071.7 703.50,1071.7 704.00,1071.8 704.50,1071.9 705.00,1072.0 705.50,1072.1 706.00,1072.2 706.50,1072.2 707.00,1072.3 707.50,1072.3 708.00,1072.2 708.50,1072.2 709.00,1072.1 709.50,1072.1 710.00,1072.0 710.50,1072.0 711.00,1071.9 711.50,1071.9 712.00,1071.9 712.50,1071.8 713.00,1071.8 713.50,1071.8 714.00,1071.8 714.50,1071.7 715.00,1071.7 715.50,1071.8 716.00,1071.8 716.50,1071.9 717.00,1071.9 717.50,1071.9 718.00,1072.0 718.50,1072.0 719.00,1072.1 719.50,1072.1 720.00,1072.1 720.50,1072.0 721.00,1072.0 721.50,1072.0 722.00,1072.0 722.50,1072.0 723.00,1072.0 723.50,1071.9 724.00,1071.9 724.50,1071.9 725.00,1071.8 725.50,1071.8 726.00,1071.8 726.50,1071.7 727.00,1071.7 727.50,1071.7 728.00,1071.7 728.50,1071.7 729.00,1071.7 729.50,1071.7 730.00,1071.7 730.50,1071.7 731.00,1071.7 731.50,1071.8 732.00,1071.8 732.50,1071.9 733.00,1072.0 733.50,1072.0 734.00,1072.1 734.50,1072.1 735.00,1072.2 735.50,1072.1 736.00,1072.0 736.50,1072.0 737.00,1071.9 737.50,1071.8 738.00,1071.7 738.50,1071.7 739.00,1071.6 739.50,1071.7 740.00,1071.8 740.50,1071.8 741.00,1070.7 741.50,1069.1 742.00,1067.6 742.50,1066.4 743.00,1065.7 743.30,1065.6 743.50,1065.6 744.00,1066.2 744.50,1067.3 745.00,1068.8 745.50,1070.4 746.00,1069.4 746.50,1068.0 747.00,1066.8 747.50,1066.2 747.80,1066.1 748.00,1066.1 748.50,1066.7 749.00,1067.7 749.50,1069.1 750.00,1070.7 750.50,1071.2 751.00,1070.7 751.50,1070.4 752.00,1070.3 752.50,1070.4 753.00,1070.7 753.50,1071.2 754.00,1071.8 754.50,1072.1 755.00,1072.1 755.50,1072.1 756.00,1072.1 756.50,1072.1 757.00,1072.1 757.50,1072.1 758.00,1072.1 758.50,1072.1 759.00,1072.1 759.50,1072.0 760.00,1071.9 760.50,1071.8 761.00,1071.7 761.50,1071.6 762.00,1071.5 762.50,1071.4 763.00,1071.3 763.50,1071.4 764.00,1071.5 764.50,1071.6 765.00,1071.7 765.50,1071.8 766.00,1071.9 766.50,1071.9 767.00,1072.0 767.50,1072.0 768.00,1072.0 768.50,1071.9 769.00,1071.9 769.50,1071.8 770.00,1071.8 770.50,1071.7 771.00,1071.7 771.50,1071.6 772.00,1071.6 772.50,1071.5 773.00,1071.5 773.50,1071.4 774.00,1071.4 774.50,1071.3 775.00,1071.3 775.50,1071.3 776.00,1071.3 776.50,1071.3 777.00,1071.3 777.50,1071.3 778.00,1071.3 778.50,1071.3 779.00,1071.3 779.50,1071.4 780.00,1071.6 780.50,1071.7 781.00,1071.8 781.50,1071.9 782.00,1072.1 782.50,1072.2 783.00,1072.3 783.50,1072.3 784.00,1072.2 784.50,1072.1 785.00,1072.1 785.50,1072.0 786.00,1071.9 786.50,1071.9 787.00,1071.8 787.50,1071.8 788.00,1071.8 788.50,1071.8 789.00,1071.7 789.50,1071.7 790.00,1071.7 790.50,1071.7 791.00,1071.7 791.50,1071.7 792.00,1071.7 792.50,1071.7 793.00,1071.6 793.50,1071.6 794.00,1071.6 794.50,1071.6 795.00,1071.6 795.50,1071.6 796.00,1071.7 796.50,1071.7 797.00,1071.8 797.50,1071.8 798.00,1071.9 798.50,1071.9 799.00,1072.0 799.50,1072.0 800.00,1072.0 800.50,1072.0 801.00,1072.0 801.50,1072.0 802.00,1072.0 802.50,1072.0 803.00,1072.0 803.50,1072.0 804.00,1072.1 804.50,1072.1 805.00,1072.2 805.50,1072.2 806.00,1072.3 806.50,1072.3 807.00,1072.4 807.50,1072.4 808.00,1072.4 808.50,1072.3 809.00,1072.3 809.50,1072.3 810.00,1072.3 810.50,1072.3 811.00,1072.3 811.50,1072.3 812.00,1072.2 812.50,1072.1 813.00,1072.0 813.50,1072.0 814.00,1071.9 814.50,1071.8 815.00,1071.8 815.50,1071.8 816.00,1071.9 816.0,1076.2" fill="#000" stroke="#000" stroke-width="1.1" stroke-linejoin="round"/><path d="M110.9,828.9H124.9V1076.2M110.9,1076.2H816.8M114.4,1063.8H124.9M114.4,1051.5H124.9M114.4,1039.1H124.9M110.9,1026.7H124.9M114.4,1014.4H124.9M114.4,1002.0H124.9M114.4,989.6H124.9M110.9,977.3H124.9M114.4,964.9H124.9M114.4,952.5H124.9M114.4,940.2H124.9M110.9,927.8H124.9M114.4,915.5H124.9M114.4,903.1H124.9M114.4,890.7H124.9M110.9,878.4H124.9M114.4,866.0H124.9M114.4,853.6H124.9M114.4,841.3H124.9M128.7,1076.2V1090.2M148.2,1076.2V1086.7M167.7,1076.2V1086.7M187.3,1076.2V1086.7M206.8,1076.2V1086.7M226.3,1076.2V1090.2M245.4,1076.2V1086.7M264.5,1076.2V1086.7M283.5,1076.2V1086.7M302.6,1076.2V1086.7M321.7,1076.2V1090.2M341.3,1076.2V1086.7M360.9,1076.2V1086.7M380.4,1076.2V1086.7M400.0,1076.2V1086.7M419.6,1076.2V1090.2M439.0,1076.2V1086.7M458.4,1076.2V1086.7M477.7,1076.2V1086.7M497.1,1076.2V1086.7M516.5,1076.2V1090.2M536.1,1076.2V1086.7M555.6,1076.2V1086.7M575.2,1076.2V1086.7M594.7,1076.2V1086.7M614.3,1076.2V1090.2M633.2,1076.2V1086.7M652.2,1076.2V1086.7M671.1,1076.2V1086.7M690.1,1076.2V1086.7M709.0,1076.2V1090.2M728.6,1076.2V1086.7M748.2,1076.2V1086.7M767.8,1076.2V1086.7M787.4,1076.2V1086.7M807.0,1076.2V1090.2" stroke="#000" stroke-width="2" fill="none" stroke-linecap="butt" stroke-linejoin="round"/><g font-family="'TeX Gyre Heros', 'Liberation Sans', Arial, sans-serif" font-size="22.5" fill="#111" stroke="#111" stroke-width="0.45"><text transform="translate(89.4,1083.9) scale(0.925,0.965)">0</text><text transform="translate(78.3,1034.5) scale(0.925,0.965)">20</text><text transform="translate(78.3,985.0) scale(0.925,0.965)">40</text><text transform="translate(78.3,935.5) scale(0.925,0.965)">60</text><text transform="translate(78.3,886.1) scale(0.925,0.965)">80</text><text transform="translate(66.3,836.6) scale(0.925,0.965)">100</text><text transform="translate(112.1,1108.7) scale(0.925,0.965)">20</text><text transform="translate(209.2,1108.7) scale(0.925,0.965)">30</text><text transform="translate(305.1,1108.7) scale(0.925,0.965)">40</text><text transform="translate(402.5,1108.7) scale(0.925,0.965)">50</text><text transform="translate(499.4,1108.7) scale(0.925,0.965)">60</text><text transform="translate(597.2,1108.7) scale(0.925,0.965)">70</text><text transform="translate(691.9,1108.7) scale(0.925,0.965)">80</text><text transform="translate(789.9,1108.7) scale(0.925,0.965)">90</text><text transform="translate(128.6,1065.6) scale(0.925,0.965)">20.33</text><text transform="translate(177.4,894.9) scale(0.925,0.965)">28.12</text><text transform="translate(232.0,1056.9) scale(0.925,0.965)">36.49</text><text transform="translate(248.2,1023.5) scale(0.925,0.965)">37.84</text><text transform="translate(286.3,822.6) scale(0.925,0.965)">39.51</text><text transform="translate(354.0,874.5) scale(0.925,0.965)">46.58</text><text transform="translate(420.4,888.7) scale(0.925,0.965)">50.12</text><text transform="translate(433.8,976.5) scale(0.925,0.965)">54.83</text><text transform="translate(467.9,1061.9) scale(0.925,0.965)">55.07</text><text transform="translate(519.5,915.9) scale(0.925,0.965)">63.59</text><text transform="translate(552.9,1031.3) scale(0.925,0.965)">64.38</text><text transform="translate(570.2,1061.0) scale(0.925,0.965)">68.23</text><text transform="translate(644.6,1062.0) scale(0.925,0.965)">78.14</text><text transform="translate(710.1,1059.8) scale(0.925,0.965)">83.45</text></g><text x="413.9" y="1133.7" font-family="'TeX Gyre Heros', 'Liberation Sans', Arial, sans-serif" font-size="20" fill="#111" stroke="#111" stroke-width="0.4" style="white-space:pre" xml:space="preserve">Time  (min)</text><text transform="translate(43.0,956.0) rotate(-90) scale(0.97,1)" x="-99.5" y="8.0" font-family="'TeX Gyre Heros', 'Liberation Sans', Arial, sans-serif" font-size="21.5" fill="#111" stroke="#111" stroke-width="0.4" style="white-space:pre" xml:space="preserve">Relative  Abundance</text>
<g stroke="#10c050" stroke-width="2.2" stroke-linecap="round" fill="none"><line x1="266.6" y1="288.6" x2="288.6" y2="293.3"/><line x1="220.2" y1="316.9" x2="232.7" y2="312.2"/><line x1="605.9" y1="642.5" x2="611.7" y2="639.3"/><line x1="132.4" y1="1070.8" x2="158.3" y2="1066.6"/><line x1="261" y1="1057.2" x2="289.4" y2="1061"/><line x1="280.3" y1="1025.6" x2="302.5" y2="1028"/><line x1="420.6" y1="893.5" x2="453" y2="889"/><line x1="468.3" y1="1066.6" x2="501" y2="1062.7"/><line x1="559.2" y1="1036.3" x2="585.9" y2="1031.4"/><line x1="596.1" y1="1065.6" x2="600.2" y2="1060.1"/><line x1="676.1" y1="1062.1" x2="692.1" y2="1067"/></g>
<g><line x1="482" y1="201" x2="524" y2="212.3" stroke="#858585" stroke-width="2.1" stroke-linecap="round"/><polygon points="538.3,216.6 521.7,220.6 525.9,206.6" fill="#858585"/><line x1="539.4" y1="216.6" x2="539.4" y2="237" stroke="#8a8a8a" stroke-width="2"/></g>
<g font-family="Carlito, 'Liberation Sans', sans-serif" font-size="36" fill="#0a0aff" stroke="#0a0aff" stroke-width="0.15" style="font-variant-ligatures:none"><text x="502.7" y="51.8" textLength="514.2" lengthAdjust="spacingAndGlyphs">Unscheduled PRM of PRTC mixture</text><text x="502.0" y="96.5" textLength="418.3" lengthAdjust="spacingAndGlyphs">spiked in 100 ng HeLa digest</text><text x="501.7" y="477.0" textLength="475.1" lengthAdjust="spacingAndGlyphs">Scheduled PRM of PRTC mixture</text><text x="502.0" y="521.5" textLength="417.0" lengthAdjust="spacingAndGlyphs">spiked in 100 ng HeLa digest</text><text x="502.9" y="818.0" textLength="412.4" lengthAdjust="spacingAndGlyphs">Data-dependent acquisition</text><text x="502.5" y="862.3" textLength="234.9" lengthAdjust="spacingAndGlyphs">of PRTC mixture</text></g>
</svg></body></html>
